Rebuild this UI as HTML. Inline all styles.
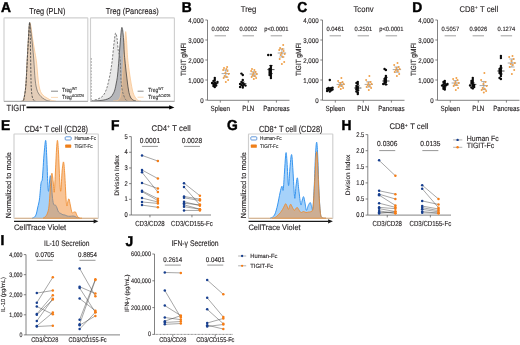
<!DOCTYPE html>
<html><head><meta charset="utf-8"><style>
html,body{margin:0;padding:0;background:#fff;width:520px;height:345px;overflow:hidden}
svg{display:block;font-family:"Liberation Sans", sans-serif;will-change:transform;text-rendering:geometricPrecision}
</style></head><body>
<svg width="520" height="345" viewBox="0 0 520 345">
<text transform="translate(1.0,12.0) scale(1,1.04)" font-size="13.8" text-anchor="start" font-weight="bold" fill="#000" stroke="#000" stroke-width="0.45" stroke-linejoin="miter">A</text>
<rect x="4.0" y="17.9" width="83.8" height="83.5" rx="0.6" fill="#fff" stroke="#cfcfcf" stroke-width="1.15"/>
<rect x="90.5" y="17.9" width="83.9" height="83.5" rx="0.6" fill="#fff" stroke="#cfcfcf" stroke-width="1.15"/>
<text transform="translate(47.3,14.3) scale(1,1.17)" font-size="7.38" text-anchor="middle" font-weight="normal" fill="#231f20" stroke="#231f20" stroke-width="0.12">Treg (PLN)</text>
<text transform="translate(132.3,14.3) scale(1,1.17)" font-size="7.38" text-anchor="middle" font-weight="normal" fill="#231f20" stroke="#231f20" stroke-width="0.12">Treg (Pancreas)</text>
<path d="M21.50,101.20 C21.80,101.10 22.88,101.13 23.30,100.60 C23.72,100.07 23.65,99.77 24.00,98.00 C24.35,96.23 25.03,93.00 25.40,90.00 C25.77,87.00 25.90,85.00 26.20,80.00 C26.50,75.00 26.85,66.67 27.20,60.00 C27.55,53.33 28.00,45.33 28.30,40.00 C28.60,34.67 28.78,30.95 29.00,28.00 C29.22,25.05 29.37,22.63 29.60,22.30 C29.83,21.97 30.12,24.05 30.40,26.00 C30.68,27.95 30.93,30.67 31.30,34.00 C31.67,37.33 32.18,41.67 32.60,46.00 C33.02,50.33 33.37,54.33 33.80,60.00 C34.23,65.67 34.67,75.00 35.20,80.00 C35.73,85.00 36.27,87.50 37.00,90.00 C37.73,92.50 38.67,93.67 39.60,95.00 C40.53,96.33 41.47,97.12 42.60,98.00 C43.73,98.88 45.17,99.77 46.40,100.30 C47.63,100.83 49.40,101.05 50.00,101.20 L50.00,101 L21.50,101 Z" fill="#dcdfe2" stroke="none"/>
<path d="M21.50,101.20 C21.80,101.10 22.88,101.13 23.30,100.60 C23.72,100.07 23.65,99.77 24.00,98.00 C24.35,96.23 25.03,93.00 25.40,90.00 C25.77,87.00 25.90,85.00 26.20,80.00 C26.50,75.00 26.85,66.67 27.20,60.00 C27.55,53.33 27.98,45.33 28.30,40.00 C28.62,34.67 28.83,30.87 29.10,28.00 C29.37,25.13 29.58,22.97 29.90,22.80 C30.22,22.63 30.57,24.47 31.00,27.00 C31.43,29.53 31.92,34.17 32.50,38.00 C33.08,41.83 33.83,46.00 34.50,50.00 C35.17,54.00 35.88,57.00 36.50,62.00 C37.12,67.00 37.62,75.33 38.20,80.00 C38.78,84.67 39.23,87.50 40.00,90.00 C40.77,92.50 41.63,93.67 42.80,95.00 C43.97,96.33 45.55,97.10 47.00,98.00 C48.45,98.90 50.00,99.87 51.50,100.40 C53.00,100.93 55.25,101.07 56.00,101.20 L56.00,101 L21.50,101 Z" fill="#f4a656" fill-opacity="0.30" stroke="none"/>
<path d="M21.50,101.20 C21.80,101.10 22.88,101.13 23.30,100.60 C23.72,100.07 23.65,99.77 24.00,98.00 C24.35,96.23 25.03,93.00 25.40,90.00 C25.77,87.00 25.90,85.00 26.20,80.00 C26.50,75.00 26.85,66.67 27.20,60.00 C27.55,53.33 27.98,45.33 28.30,40.00 C28.62,34.67 28.83,30.87 29.10,28.00 C29.37,25.13 29.58,22.97 29.90,22.80 C30.22,22.63 30.57,24.47 31.00,27.00 C31.43,29.53 31.92,34.17 32.50,38.00 C33.08,41.83 33.83,46.00 34.50,50.00 C35.17,54.00 35.88,57.00 36.50,62.00 C37.12,67.00 37.62,75.33 38.20,80.00 C38.78,84.67 39.23,87.50 40.00,90.00 C40.77,92.50 41.63,93.67 42.80,95.00 C43.97,96.33 45.55,97.10 47.00,98.00 C48.45,98.90 50.00,99.87 51.50,100.40 C53.00,100.93 55.25,101.07 56.00,101.20" fill="none" stroke="#f8c794" stroke-width="0.8"/>
<path d="M21.50,101.20 C21.80,101.10 22.88,101.13 23.30,100.60 C23.72,100.07 23.65,99.77 24.00,98.00 C24.35,96.23 25.03,93.00 25.40,90.00 C25.77,87.00 25.90,85.00 26.20,80.00 C26.50,75.00 26.85,66.67 27.20,60.00 C27.55,53.33 28.00,45.33 28.30,40.00 C28.60,34.67 28.78,30.95 29.00,28.00 C29.22,25.05 29.37,22.63 29.60,22.30 C29.83,21.97 30.12,24.05 30.40,26.00 C30.68,27.95 30.93,30.67 31.30,34.00 C31.67,37.33 32.18,41.67 32.60,46.00 C33.02,50.33 33.37,54.33 33.80,60.00 C34.23,65.67 34.67,75.00 35.20,80.00 C35.73,85.00 36.27,87.50 37.00,90.00 C37.73,92.50 38.67,93.67 39.60,95.00 C40.53,96.33 41.47,97.12 42.60,98.00 C43.73,98.88 45.17,99.77 46.40,100.30 C47.63,100.83 49.40,101.05 50.00,101.20" fill="none" stroke="#505050" stroke-width="0.6"/>
<path d="M23.60,100.40 C23.73,99.83 24.07,99.07 24.40,97.00 C24.73,94.93 25.27,91.17 25.60,88.00 C25.93,84.83 26.12,82.67 26.40,78.00 C26.68,73.33 26.97,66.33 27.30,60.00 C27.63,53.67 28.02,46.23 28.40,40.00 C28.78,33.77 29.30,23.43 29.60,22.60 C29.90,21.77 30.03,29.60 30.20,35.00 C30.37,40.40 30.47,47.50 30.60,55.00 C30.73,62.50 30.87,74.17 31.00,80.00 C31.13,85.83 31.18,87.17 31.40,90.00 C31.62,92.83 31.87,95.23 32.30,97.00 C32.73,98.77 33.38,99.90 34.00,100.60 C34.62,101.30 35.67,101.10 36.00,101.20" fill="none" stroke="#444" stroke-width="0.85" stroke-dasharray="2.2,1.4"/>
<line x1="51" y1="91.2" x2="58" y2="91.2" stroke="#555" stroke-width="0.7" />
<line x1="51" y1="97.4" x2="58" y2="97.4" stroke="#f8c794" stroke-width="0.7" />
<text transform="translate(61.9,92.3) scale(1,1.2)" font-size="4.95" text-anchor="start" font-weight="normal" fill="#333" stroke="#333" stroke-width="0.12">Treg<tspan font-size="3.4" dy="-1.6">WT</tspan></text>
<text transform="translate(61.9,98.5) scale(1,1.2)" font-size="4.95" text-anchor="start" font-weight="normal" fill="#333" stroke="#333" stroke-width="0.12">Treg<tspan font-size="3.4" dy="-1.6">ΔCd226</tspan></text>
<path d="M91.20,101.00 C91.42,100.93 91.62,100.85 92.50,100.60 C93.38,100.35 95.25,99.93 96.50,99.50 C97.75,99.07 98.92,98.62 100.00,98.00 C101.08,97.38 102.08,96.88 103.00,95.80 C103.92,94.72 104.73,93.23 105.50,91.50 C106.27,89.77 106.82,88.38 107.60,85.40 C108.38,82.42 109.43,77.73 110.20,73.60 C110.97,69.47 111.60,65.37 112.20,60.60 C112.80,55.83 113.25,49.55 113.80,45.00 C114.35,40.45 114.97,34.47 115.50,33.30 C116.03,32.13 116.55,35.22 117.00,38.00 C117.45,40.78 117.67,46.33 118.20,50.00 C118.73,53.67 119.73,55.00 120.20,60.00 C120.67,65.00 120.67,75.00 121.00,80.00 C121.33,85.00 121.77,87.50 122.20,90.00 C122.63,92.50 123.05,93.42 123.60,95.00 C124.15,96.58 124.77,98.50 125.50,99.50 C126.23,100.50 127.58,100.75 128.00,101.00 L128.00,101 L91.20,101 Z" fill="#e8e8e8" stroke="none"/>
<path d="M92.50,101.00 C93.25,100.97 95.25,100.93 97.00,100.80 C98.75,100.67 101.25,100.50 103.00,100.20 C104.75,99.90 106.18,99.53 107.50,99.00 C108.82,98.47 109.98,97.83 110.90,97.00 C111.82,96.17 112.35,95.17 113.00,94.00 C113.65,92.83 114.22,92.00 114.80,90.00 C115.38,88.00 116.03,84.50 116.50,82.00 C116.97,79.50 117.20,78.67 117.60,75.00 C118.00,71.33 118.57,64.17 118.90,60.00 C119.23,55.83 119.35,53.33 119.60,50.00 C119.85,46.67 120.13,43.17 120.40,40.00 C120.67,36.83 120.95,33.10 121.20,31.00 C121.45,28.90 121.63,27.40 121.90,27.40 C122.17,27.40 122.52,28.90 122.80,31.00 C123.08,33.10 123.37,36.50 123.60,40.00 C123.83,43.50 123.98,48.67 124.20,52.00 C124.42,55.33 124.52,56.17 124.90,60.00 C125.28,63.83 125.90,70.00 126.50,75.00 C127.10,80.00 127.85,86.33 128.50,90.00 C129.15,93.67 129.65,95.33 130.40,97.00 C131.15,98.67 132.07,99.33 133.00,100.00 C133.93,100.67 135.50,100.83 136.00,101.00 L136.00,101 L92.50,101 Z" fill="#b5b6ba" stroke="none"/>
<path d="M113.00,101.00 C113.83,100.88 116.80,100.97 118.00,100.30 C119.20,99.63 119.65,98.72 120.20,97.00 C120.75,95.28 120.90,93.67 121.30,90.00 C121.70,86.33 122.22,80.00 122.60,75.00 C122.98,70.00 123.32,64.50 123.60,60.00 C123.88,55.50 124.07,51.67 124.30,48.00 C124.53,44.33 124.77,40.73 125.00,38.00 C125.23,35.27 125.47,31.60 125.70,31.60 C125.93,31.60 126.17,34.93 126.40,38.00 C126.63,41.07 126.87,46.33 127.10,50.00 C127.33,53.67 127.35,55.83 127.80,60.00 C128.25,64.17 129.03,70.00 129.80,75.00 C130.57,80.00 131.53,86.33 132.40,90.00 C133.27,93.67 134.03,95.25 135.00,97.00 C135.97,98.75 137.20,99.83 138.20,100.50 C139.20,101.17 140.53,100.92 141.00,101.00 L141.00,101 L113.00,101 Z" fill="#f4a656" fill-opacity="0.38" stroke="none"/>
<path d="M113.00,101.00 C113.83,100.88 116.80,100.97 118.00,100.30 C119.20,99.63 119.65,98.72 120.20,97.00 C120.75,95.28 120.90,93.67 121.30,90.00 C121.70,86.33 122.22,80.00 122.60,75.00 C122.98,70.00 123.32,64.50 123.60,60.00 C123.88,55.50 124.07,51.67 124.30,48.00 C124.53,44.33 124.77,40.73 125.00,38.00 C125.23,35.27 125.47,31.60 125.70,31.60 C125.93,31.60 126.17,34.93 126.40,38.00 C126.63,41.07 126.87,46.33 127.10,50.00 C127.33,53.67 127.35,55.83 127.80,60.00 C128.25,64.17 129.03,70.00 129.80,75.00 C130.57,80.00 131.53,86.33 132.40,90.00 C133.27,93.67 134.03,95.25 135.00,97.00 C135.97,98.75 137.20,99.83 138.20,100.50 C139.20,101.17 140.53,100.92 141.00,101.00" fill="none" stroke="#f8c794" stroke-width="0.8"/>
<path d="M92.50,101.00 C93.25,100.97 95.25,100.93 97.00,100.80 C98.75,100.67 101.25,100.50 103.00,100.20 C104.75,99.90 106.18,99.53 107.50,99.00 C108.82,98.47 109.98,97.83 110.90,97.00 C111.82,96.17 112.35,95.17 113.00,94.00 C113.65,92.83 114.22,92.00 114.80,90.00 C115.38,88.00 116.03,84.50 116.50,82.00 C116.97,79.50 117.20,78.67 117.60,75.00 C118.00,71.33 118.57,64.17 118.90,60.00 C119.23,55.83 119.35,53.33 119.60,50.00 C119.85,46.67 120.13,43.17 120.40,40.00 C120.67,36.83 120.95,33.10 121.20,31.00 C121.45,28.90 121.63,27.40 121.90,27.40 C122.17,27.40 122.52,28.90 122.80,31.00 C123.08,33.10 123.37,36.50 123.60,40.00 C123.83,43.50 123.98,48.67 124.20,52.00 C124.42,55.33 124.52,56.17 124.90,60.00 C125.28,63.83 125.90,70.00 126.50,75.00 C127.10,80.00 127.85,86.33 128.50,90.00 C129.15,93.67 129.65,95.33 130.40,97.00 C131.15,98.67 132.07,99.33 133.00,100.00 C133.93,100.67 135.50,100.83 136.00,101.00" fill="none" stroke="#3a3a3a" stroke-width="0.75"/>
<path d="M91.20,101.00 C91.42,100.93 91.62,100.85 92.50,100.60 C93.38,100.35 95.25,99.93 96.50,99.50 C97.75,99.07 98.92,98.62 100.00,98.00 C101.08,97.38 102.08,96.88 103.00,95.80 C103.92,94.72 104.73,93.23 105.50,91.50 C106.27,89.77 106.82,88.38 107.60,85.40 C108.38,82.42 109.43,77.73 110.20,73.60 C110.97,69.47 111.60,65.37 112.20,60.60 C112.80,55.83 113.25,49.55 113.80,45.00 C114.35,40.45 114.97,34.47 115.50,33.30 C116.03,32.13 116.55,35.22 117.00,38.00 C117.45,40.78 117.67,46.33 118.20,50.00 C118.73,53.67 119.73,55.00 120.20,60.00 C120.67,65.00 120.67,75.00 121.00,80.00 C121.33,85.00 121.77,87.50 122.20,90.00 C122.63,92.50 123.05,93.42 123.60,95.00 C124.15,96.58 124.77,98.50 125.50,99.50 C126.23,100.50 127.58,100.75 128.00,101.00" fill="none" stroke="#6a6a6a" stroke-width="0.85" stroke-dasharray="2.2,1.4"/>
<line x1="91.3" y1="58" x2="91.3" y2="100.5" stroke="#999" stroke-width="0.8" stroke-dasharray="1.8,1.3"/>
<line x1="137.6" y1="91.2" x2="143.6" y2="91.2" stroke="#555" stroke-width="0.7" />
<line x1="137.6" y1="97.2" x2="143.6" y2="97.2" stroke="#f8c794" stroke-width="0.7" />
<text transform="translate(148.2,92.3) scale(1,1.2)" font-size="4.95" text-anchor="start" font-weight="normal" fill="#333" stroke="#333" stroke-width="0.12">Treg<tspan font-size="3.4" dy="-1.6">WT</tspan></text>
<text transform="translate(148.2,98.5) scale(1,1.2)" font-size="4.95" text-anchor="start" font-weight="normal" fill="#333" stroke="#333" stroke-width="0.12">Treg<tspan font-size="3.4" dy="-1.6">ΔCd226</tspan></text>
<line x1="4.0" y1="101.4" x2="87.8" y2="101.4" stroke="#a9a9a9" stroke-width="1.0" />
<line x1="90.5" y1="101.4" x2="174.4" y2="101.4" stroke="#a9a9a9" stroke-width="1.0" />
<text transform="translate(6.5,110.7) scale(1,1.2)" font-size="7.6" text-anchor="start" font-weight="normal" fill="#231f20" stroke="#231f20" stroke-width="0.12">TIGIT</text>
<line x1="26.5" y1="107.4" x2="170" y2="107.4" stroke="#000" stroke-width="1.6" />
<path d="M169.2,105.3 L174.4,107.4 L169.2,109.5 Z" fill="#000"/>
<text transform="translate(181.7,12.3) scale(1,1.04)" font-size="13.8" text-anchor="start" font-weight="bold" fill="#000" stroke="#000" stroke-width="0.45" stroke-linejoin="miter">B</text>
<text transform="translate(248.5,12.1) scale(1,1.1)" font-size="7.65" text-anchor="middle" font-weight="normal" fill="#231f20" stroke="#231f20" stroke-width="0.12">Treg</text>
<line x1="207.5" y1="20" x2="207.5" y2="100.3" stroke="#5a5a5a" stroke-width="0.75" />
<line x1="205.3" y1="20" x2="207.5" y2="20" stroke="#5a5a5a" stroke-width="0.75" />
<text transform="translate(203.6,22.8) scale(1,1.1)" font-size="6.15" text-anchor="end" font-weight="normal" fill="#231f20" stroke="#231f20" stroke-width="0.12">4,000</text>
<line x1="205.3" y1="40" x2="207.5" y2="40" stroke="#5a5a5a" stroke-width="0.75" />
<text transform="translate(203.6,42.8) scale(1,1.1)" font-size="6.15" text-anchor="end" font-weight="normal" fill="#231f20" stroke="#231f20" stroke-width="0.12">3,000</text>
<line x1="205.3" y1="60" x2="207.5" y2="60" stroke="#5a5a5a" stroke-width="0.75" />
<text transform="translate(203.6,62.8) scale(1,1.1)" font-size="6.15" text-anchor="end" font-weight="normal" fill="#231f20" stroke="#231f20" stroke-width="0.12">2,000</text>
<line x1="205.3" y1="80" x2="207.5" y2="80" stroke="#5a5a5a" stroke-width="0.75" />
<text transform="translate(203.6,82.8) scale(1,1.1)" font-size="6.15" text-anchor="end" font-weight="normal" fill="#231f20" stroke="#231f20" stroke-width="0.12">1,000</text>
<line x1="205.3" y1="100" x2="207.5" y2="100" stroke="#5a5a5a" stroke-width="0.75" />
<text transform="translate(203.6,102.8) scale(1,1.1)" font-size="6.15" text-anchor="end" font-weight="normal" fill="#231f20" stroke="#231f20" stroke-width="0.12">0</text>
<line x1="207.5" y1="100.3" x2="289.5" y2="100.3" stroke="#5a5a5a" stroke-width="0.75" />
<line x1="220.3" y1="100.3" x2="220.3" y2="102.6" stroke="#5a5a5a" stroke-width="0.75" />
<text transform="translate(220.3,110.6) scale(1,1.2)" font-size="6.25" text-anchor="middle" font-weight="normal" fill="#231f20" stroke="#231f20" stroke-width="0.12">Spleen</text>
<line x1="248.3" y1="100.3" x2="248.3" y2="102.6" stroke="#5a5a5a" stroke-width="0.75" />
<text transform="translate(248.3,110.6) scale(1,1.2)" font-size="6.25" text-anchor="middle" font-weight="normal" fill="#231f20" stroke="#231f20" stroke-width="0.12">PLN</text>
<line x1="276.4" y1="100.3" x2="276.4" y2="102.6" stroke="#5a5a5a" stroke-width="0.75" />
<text transform="translate(276.4,110.6) scale(1,1.2)" font-size="6.25" text-anchor="middle" font-weight="normal" fill="#231f20" stroke="#231f20" stroke-width="0.12">Pancreas</text>
<text transform="translate(185.7,59.4) rotate(-90) scale(1,1.15)" font-size="6.5" text-anchor="middle" fill="#231f20" stroke="#231f20" stroke-width="0.12">TIGIT gMFI</text>
<text transform="translate(220.3,31.3) scale(1,1.065)" font-size="5.8" text-anchor="middle" font-weight="normal" fill="#231f20" stroke="#231f20" stroke-width="0.12">0.0002</text>
<line x1="214.60000000000002" y1="35.8" x2="226.0" y2="35.8" stroke="#888" stroke-width="0.8" />
<text transform="translate(248.3,31.3) scale(1,1.065)" font-size="5.8" text-anchor="middle" font-weight="normal" fill="#231f20" stroke="#231f20" stroke-width="0.12">0.0002</text>
<line x1="242.60000000000002" y1="35.8" x2="254.0" y2="35.8" stroke="#888" stroke-width="0.8" />
<text transform="translate(276.4,31.3) scale(1,1.065)" font-size="5.8" text-anchor="middle" font-weight="normal" fill="#231f20" stroke="#231f20" stroke-width="0.12">p&lt;0.0001</text>
<line x1="270.7" y1="35.8" x2="282.09999999999997" y2="35.8" stroke="#888" stroke-width="0.8" />
<line x1="211.20000000000002" y1="83.6" x2="218.4" y2="83.6" stroke="#222" stroke-width="0.75" />
<line x1="214.8" y1="82.2" x2="214.8" y2="85.0" stroke="#222" stroke-width="0.7" />
<line x1="212.9" y1="82.2" x2="216.70000000000002" y2="82.2" stroke="#222" stroke-width="0.7" />
<line x1="212.9" y1="85.0" x2="216.70000000000002" y2="85.0" stroke="#222" stroke-width="0.7" />
<circle cx="214.80" cy="87.00" r="1.2" fill="#0a0a0a"/>
<circle cx="213.45" cy="86.00" r="1.2" fill="#0a0a0a"/>
<circle cx="216.15" cy="85.60" r="1.2" fill="#0a0a0a"/>
<circle cx="214.80" cy="84.80" r="1.2" fill="#0a0a0a"/>
<circle cx="213.45" cy="84.00" r="1.2" fill="#0a0a0a"/>
<circle cx="216.15" cy="83.60" r="1.2" fill="#0a0a0a"/>
<circle cx="212.10" cy="83.00" r="1.2" fill="#0a0a0a"/>
<circle cx="214.80" cy="82.40" r="1.2" fill="#0a0a0a"/>
<circle cx="217.50" cy="82.00" r="1.2" fill="#0a0a0a"/>
<circle cx="213.45" cy="81.00" r="1.2" fill="#0a0a0a"/>
<circle cx="214.80" cy="80.00" r="1.2" fill="#0a0a0a"/>
<circle cx="214.80" cy="78.00" r="1.2" fill="#0a0a0a"/>
<line x1="221.60000000000002" y1="73.6" x2="230.0" y2="73.6" stroke="#8a8a8a" stroke-width="0.75" />
<line x1="225.8" y1="70.0" x2="225.8" y2="77.2" stroke="#8a8a8a" stroke-width="0.7" />
<line x1="223.20000000000002" y1="70.0" x2="228.4" y2="70.0" stroke="#8a8a8a" stroke-width="0.7" />
<line x1="223.20000000000002" y1="77.2" x2="228.4" y2="77.2" stroke="#8a8a8a" stroke-width="0.7" />
<circle cx="225.80" cy="82.00" r="1.0" fill="#f0a048"/>
<circle cx="228.10" cy="80.00" r="1.0" fill="#f0a048"/>
<circle cx="223.60" cy="78.00" r="1.0" fill="#f0a048"/>
<circle cx="226.80" cy="77.00" r="1.0" fill="#f0a048"/>
<circle cx="224.60" cy="76.00" r="1.0" fill="#f0a048"/>
<circle cx="228.60" cy="74.00" r="1.0" fill="#f0a048"/>
<circle cx="225.30" cy="73.00" r="1.0" fill="#f0a048"/>
<circle cx="227.50" cy="71.00" r="1.0" fill="#f0a048"/>
<circle cx="223.10" cy="70.00" r="1.0" fill="#f0a048"/>
<circle cx="226.40" cy="69.00" r="1.0" fill="#f0a048"/>
<circle cx="224.00" cy="68.00" r="1.0" fill="#f0a048"/>
<circle cx="227.10" cy="67.00" r="1.0" fill="#f0a048"/>
<line x1="239.20000000000002" y1="83.6" x2="246.4" y2="83.6" stroke="#222" stroke-width="0.75" />
<line x1="242.8" y1="82.0" x2="242.8" y2="85.2" stroke="#222" stroke-width="0.7" />
<line x1="240.9" y1="82.0" x2="244.70000000000002" y2="82.0" stroke="#222" stroke-width="0.7" />
<line x1="240.9" y1="85.2" x2="244.70000000000002" y2="85.2" stroke="#222" stroke-width="0.7" />
<circle cx="242.80" cy="87.60" r="1.2" fill="#0a0a0a"/>
<circle cx="240.10" cy="87.00" r="1.2" fill="#0a0a0a"/>
<circle cx="242.80" cy="86.00" r="1.2" fill="#0a0a0a"/>
<circle cx="245.50" cy="85.60" r="1.2" fill="#0a0a0a"/>
<circle cx="241.45" cy="85.00" r="1.2" fill="#0a0a0a"/>
<circle cx="244.15" cy="84.40" r="1.2" fill="#0a0a0a"/>
<circle cx="240.10" cy="84.00" r="1.2" fill="#0a0a0a"/>
<circle cx="242.80" cy="83.00" r="1.2" fill="#0a0a0a"/>
<circle cx="241.45" cy="82.00" r="1.2" fill="#0a0a0a"/>
<circle cx="242.80" cy="80.00" r="1.2" fill="#0a0a0a"/>
<circle cx="242.80" cy="75.00" r="1.2" fill="#0a0a0a"/>
<circle cx="241.45" cy="73.60" r="1.2" fill="#0a0a0a"/>
<line x1="249.60000000000002" y1="74.0" x2="258.0" y2="74.0" stroke="#8a8a8a" stroke-width="0.75" />
<line x1="253.8" y1="71.8" x2="253.8" y2="76.2" stroke="#8a8a8a" stroke-width="0.7" />
<line x1="251.20000000000002" y1="71.8" x2="256.40000000000003" y2="71.8" stroke="#8a8a8a" stroke-width="0.7" />
<line x1="251.20000000000002" y1="76.2" x2="256.40000000000003" y2="76.2" stroke="#8a8a8a" stroke-width="0.7" />
<circle cx="253.80" cy="79.00" r="1.0" fill="#f0a048"/>
<circle cx="256.10" cy="78.00" r="1.0" fill="#f0a048"/>
<circle cx="251.60" cy="77.00" r="1.0" fill="#f0a048"/>
<circle cx="254.80" cy="76.00" r="1.0" fill="#f0a048"/>
<circle cx="252.60" cy="75.00" r="1.0" fill="#f0a048"/>
<circle cx="256.60" cy="74.00" r="1.0" fill="#f0a048"/>
<circle cx="253.30" cy="73.00" r="1.0" fill="#f0a048"/>
<circle cx="255.50" cy="72.00" r="1.0" fill="#f0a048"/>
<circle cx="251.10" cy="71.00" r="1.0" fill="#f0a048"/>
<circle cx="254.40" cy="70.00" r="1.0" fill="#f0a048"/>
<circle cx="252.00" cy="69.00" r="1.0" fill="#f0a048"/>
<line x1="267.29999999999995" y1="69.6" x2="274.5" y2="69.6" stroke="#222" stroke-width="0.75" />
<line x1="270.9" y1="65.6" x2="270.9" y2="73.6" stroke="#222" stroke-width="0.7" />
<line x1="269.0" y1="65.6" x2="272.79999999999995" y2="65.6" stroke="#222" stroke-width="0.7" />
<line x1="269.0" y1="73.6" x2="272.79999999999995" y2="73.6" stroke="#222" stroke-width="0.7" />
<circle cx="270.90" cy="78.00" r="1.2" fill="#0a0a0a"/>
<circle cx="270.90" cy="76.00" r="1.2" fill="#0a0a0a"/>
<circle cx="269.55" cy="75.00" r="1.2" fill="#0a0a0a"/>
<circle cx="270.90" cy="74.00" r="1.2" fill="#0a0a0a"/>
<circle cx="269.55" cy="73.00" r="1.2" fill="#0a0a0a"/>
<circle cx="270.90" cy="72.00" r="1.2" fill="#0a0a0a"/>
<circle cx="269.55" cy="71.00" r="1.2" fill="#0a0a0a"/>
<circle cx="270.90" cy="70.00" r="1.2" fill="#0a0a0a"/>
<circle cx="269.55" cy="69.00" r="1.2" fill="#0a0a0a"/>
<circle cx="270.90" cy="68.00" r="1.2" fill="#0a0a0a"/>
<circle cx="270.90" cy="66.00" r="1.2" fill="#0a0a0a"/>
<circle cx="270.90" cy="55.00" r="1.2" fill="#0a0a0a"/>
<circle cx="268.20" cy="55.00" r="1.2" fill="#0a0a0a"/>
<line x1="277.7" y1="53.0" x2="286.09999999999997" y2="53.0" stroke="#8a8a8a" stroke-width="0.75" />
<line x1="281.9" y1="49.0" x2="281.9" y2="57.0" stroke="#8a8a8a" stroke-width="0.7" />
<line x1="279.29999999999995" y1="49.0" x2="284.5" y2="49.0" stroke="#8a8a8a" stroke-width="0.7" />
<line x1="279.29999999999995" y1="57.0" x2="284.5" y2="57.0" stroke="#8a8a8a" stroke-width="0.7" />
<circle cx="281.90" cy="64.00" r="1.0" fill="#f0a048"/>
<circle cx="284.20" cy="62.00" r="1.0" fill="#f0a048"/>
<circle cx="279.70" cy="59.00" r="1.0" fill="#f0a048"/>
<circle cx="282.90" cy="57.00" r="1.0" fill="#f0a048"/>
<circle cx="280.70" cy="55.00" r="1.0" fill="#f0a048"/>
<circle cx="284.70" cy="54.00" r="1.0" fill="#f0a048"/>
<circle cx="281.40" cy="53.00" r="1.0" fill="#f0a048"/>
<circle cx="283.60" cy="51.00" r="1.0" fill="#f0a048"/>
<circle cx="279.20" cy="50.00" r="1.0" fill="#f0a048"/>
<circle cx="282.50" cy="49.00" r="1.0" fill="#f0a048"/>
<circle cx="280.10" cy="48.00" r="1.0" fill="#f0a048"/>
<circle cx="283.20" cy="45.00" r="1.0" fill="#f0a048"/>
<text transform="translate(297.2,12.3) scale(1,1.04)" font-size="13.8" text-anchor="start" font-weight="bold" fill="#000" stroke="#000" stroke-width="0.45" stroke-linejoin="miter">C</text>
<text transform="translate(363.5,12.1) scale(1,1.1)" font-size="7.65" text-anchor="middle" font-weight="normal" fill="#231f20" stroke="#231f20" stroke-width="0.12">Tconv</text>
<line x1="322.5" y1="20" x2="322.5" y2="100.3" stroke="#5a5a5a" stroke-width="0.75" />
<line x1="320.3" y1="20" x2="322.5" y2="20" stroke="#5a5a5a" stroke-width="0.75" />
<text transform="translate(318.6,22.8) scale(1,1.1)" font-size="6.15" text-anchor="end" font-weight="normal" fill="#231f20" stroke="#231f20" stroke-width="0.12">4,000</text>
<line x1="320.3" y1="40" x2="322.5" y2="40" stroke="#5a5a5a" stroke-width="0.75" />
<text transform="translate(318.6,42.8) scale(1,1.1)" font-size="6.15" text-anchor="end" font-weight="normal" fill="#231f20" stroke="#231f20" stroke-width="0.12">3,000</text>
<line x1="320.3" y1="60" x2="322.5" y2="60" stroke="#5a5a5a" stroke-width="0.75" />
<text transform="translate(318.6,62.8) scale(1,1.1)" font-size="6.15" text-anchor="end" font-weight="normal" fill="#231f20" stroke="#231f20" stroke-width="0.12">2,000</text>
<line x1="320.3" y1="80" x2="322.5" y2="80" stroke="#5a5a5a" stroke-width="0.75" />
<text transform="translate(318.6,82.8) scale(1,1.1)" font-size="6.15" text-anchor="end" font-weight="normal" fill="#231f20" stroke="#231f20" stroke-width="0.12">1,000</text>
<line x1="320.3" y1="100" x2="322.5" y2="100" stroke="#5a5a5a" stroke-width="0.75" />
<text transform="translate(318.6,102.8) scale(1,1.1)" font-size="6.15" text-anchor="end" font-weight="normal" fill="#231f20" stroke="#231f20" stroke-width="0.12">0</text>
<line x1="322.5" y1="100.3" x2="404.5" y2="100.3" stroke="#5a5a5a" stroke-width="0.75" />
<line x1="335.3" y1="100.3" x2="335.3" y2="102.6" stroke="#5a5a5a" stroke-width="0.75" />
<text transform="translate(335.3,110.6) scale(1,1.2)" font-size="6.25" text-anchor="middle" font-weight="normal" fill="#231f20" stroke="#231f20" stroke-width="0.12">Spleen</text>
<line x1="363.3" y1="100.3" x2="363.3" y2="102.6" stroke="#5a5a5a" stroke-width="0.75" />
<text transform="translate(363.3,110.6) scale(1,1.2)" font-size="6.25" text-anchor="middle" font-weight="normal" fill="#231f20" stroke="#231f20" stroke-width="0.12">PLN</text>
<line x1="391.4" y1="100.3" x2="391.4" y2="102.6" stroke="#5a5a5a" stroke-width="0.75" />
<text transform="translate(391.4,110.6) scale(1,1.2)" font-size="6.25" text-anchor="middle" font-weight="normal" fill="#231f20" stroke="#231f20" stroke-width="0.12">Pancreas</text>
<text transform="translate(300.7,59.4) rotate(-90) scale(1,1.15)" font-size="6.5" text-anchor="middle" fill="#231f20" stroke="#231f20" stroke-width="0.12">TIGIT gMFI</text>
<text transform="translate(335.3,31.3) scale(1,1.065)" font-size="5.8" text-anchor="middle" font-weight="normal" fill="#231f20" stroke="#231f20" stroke-width="0.12">0.0461</text>
<line x1="329.6" y1="35.8" x2="341.0" y2="35.8" stroke="#888" stroke-width="0.8" />
<text transform="translate(363.3,31.3) scale(1,1.065)" font-size="5.8" text-anchor="middle" font-weight="normal" fill="#231f20" stroke="#231f20" stroke-width="0.12">0.2501</text>
<line x1="357.6" y1="35.8" x2="369.0" y2="35.8" stroke="#888" stroke-width="0.8" />
<text transform="translate(391.4,31.3) scale(1,1.065)" font-size="5.8" text-anchor="middle" font-weight="normal" fill="#231f20" stroke="#231f20" stroke-width="0.12">p&lt;0.0001</text>
<line x1="385.7" y1="35.8" x2="397.09999999999997" y2="35.8" stroke="#888" stroke-width="0.8" />
<line x1="326.2" y1="88.8" x2="333.40000000000003" y2="88.8" stroke="#222" stroke-width="0.75" />
<line x1="329.8" y1="87.6" x2="329.8" y2="90.0" stroke="#222" stroke-width="0.7" />
<line x1="327.90000000000003" y1="87.6" x2="331.7" y2="87.6" stroke="#222" stroke-width="0.7" />
<line x1="327.90000000000003" y1="90.0" x2="331.7" y2="90.0" stroke="#222" stroke-width="0.7" />
<circle cx="329.80" cy="91.60" r="1.2" fill="#0a0a0a"/>
<circle cx="327.10" cy="91.00" r="1.2" fill="#0a0a0a"/>
<circle cx="331.15" cy="90.40" r="1.2" fill="#0a0a0a"/>
<circle cx="328.45" cy="90.00" r="1.2" fill="#0a0a0a"/>
<circle cx="332.50" cy="89.60" r="1.2" fill="#0a0a0a"/>
<circle cx="329.80" cy="89.20" r="1.2" fill="#0a0a0a"/>
<circle cx="327.10" cy="88.80" r="1.2" fill="#0a0a0a"/>
<circle cx="331.15" cy="88.40" r="1.2" fill="#0a0a0a"/>
<circle cx="328.45" cy="88.00" r="1.2" fill="#0a0a0a"/>
<circle cx="332.50" cy="87.60" r="1.2" fill="#0a0a0a"/>
<circle cx="329.80" cy="80.00" r="1.2" fill="#0a0a0a"/>
<line x1="336.6" y1="84.4" x2="345.0" y2="84.4" stroke="#8a8a8a" stroke-width="0.75" />
<line x1="340.8" y1="82.6" x2="340.8" y2="86.2" stroke="#8a8a8a" stroke-width="0.7" />
<line x1="338.2" y1="82.6" x2="343.40000000000003" y2="82.6" stroke="#8a8a8a" stroke-width="0.7" />
<line x1="338.2" y1="86.2" x2="343.40000000000003" y2="86.2" stroke="#8a8a8a" stroke-width="0.7" />
<circle cx="340.80" cy="89.00" r="1.0" fill="#f0a048"/>
<circle cx="343.10" cy="88.00" r="1.0" fill="#f0a048"/>
<circle cx="338.60" cy="87.00" r="1.0" fill="#f0a048"/>
<circle cx="341.80" cy="86.00" r="1.0" fill="#f0a048"/>
<circle cx="339.60" cy="85.00" r="1.0" fill="#f0a048"/>
<circle cx="343.60" cy="84.00" r="1.0" fill="#f0a048"/>
<circle cx="340.30" cy="83.00" r="1.0" fill="#f0a048"/>
<circle cx="342.50" cy="82.00" r="1.0" fill="#f0a048"/>
<circle cx="338.10" cy="81.00" r="1.0" fill="#f0a048"/>
<circle cx="341.40" cy="78.00" r="1.0" fill="#f0a048"/>
<line x1="354.2" y1="88.0" x2="361.40000000000003" y2="88.0" stroke="#222" stroke-width="0.75" />
<line x1="357.8" y1="85.8" x2="357.8" y2="90.2" stroke="#222" stroke-width="0.7" />
<line x1="355.90000000000003" y1="85.8" x2="359.7" y2="85.8" stroke="#222" stroke-width="0.7" />
<line x1="355.90000000000003" y1="90.2" x2="359.7" y2="90.2" stroke="#222" stroke-width="0.7" />
<circle cx="357.80" cy="94.00" r="1.2" fill="#0a0a0a"/>
<circle cx="357.80" cy="92.40" r="1.2" fill="#0a0a0a"/>
<circle cx="356.45" cy="91.60" r="1.2" fill="#0a0a0a"/>
<circle cx="357.80" cy="90.40" r="1.2" fill="#0a0a0a"/>
<circle cx="356.45" cy="89.60" r="1.2" fill="#0a0a0a"/>
<circle cx="357.80" cy="88.80" r="1.2" fill="#0a0a0a"/>
<circle cx="356.45" cy="88.00" r="1.2" fill="#0a0a0a"/>
<circle cx="357.80" cy="87.00" r="1.2" fill="#0a0a0a"/>
<circle cx="356.45" cy="86.00" r="1.2" fill="#0a0a0a"/>
<circle cx="357.80" cy="84.00" r="1.2" fill="#0a0a0a"/>
<circle cx="356.45" cy="83.00" r="1.2" fill="#0a0a0a"/>
<circle cx="357.80" cy="82.00" r="1.2" fill="#0a0a0a"/>
<line x1="364.6" y1="84.4" x2="373.0" y2="84.4" stroke="#8a8a8a" stroke-width="0.75" />
<line x1="368.8" y1="81.8" x2="368.8" y2="87.0" stroke="#8a8a8a" stroke-width="0.7" />
<line x1="366.2" y1="81.8" x2="371.40000000000003" y2="81.8" stroke="#8a8a8a" stroke-width="0.7" />
<line x1="366.2" y1="87.0" x2="371.40000000000003" y2="87.0" stroke="#8a8a8a" stroke-width="0.7" />
<circle cx="368.80" cy="90.00" r="1.0" fill="#f0a048"/>
<circle cx="371.10" cy="88.00" r="1.0" fill="#f0a048"/>
<circle cx="366.60" cy="87.00" r="1.0" fill="#f0a048"/>
<circle cx="369.80" cy="86.00" r="1.0" fill="#f0a048"/>
<circle cx="367.60" cy="85.00" r="1.0" fill="#f0a048"/>
<circle cx="371.60" cy="84.00" r="1.0" fill="#f0a048"/>
<circle cx="368.30" cy="83.00" r="1.0" fill="#f0a048"/>
<circle cx="370.50" cy="82.00" r="1.0" fill="#f0a048"/>
<circle cx="366.10" cy="80.00" r="1.0" fill="#f0a048"/>
<circle cx="369.40" cy="76.00" r="1.0" fill="#f0a048"/>
<line x1="382.29999999999995" y1="81.0" x2="389.5" y2="81.0" stroke="#222" stroke-width="0.75" />
<line x1="385.9" y1="77.4" x2="385.9" y2="84.6" stroke="#222" stroke-width="0.7" />
<line x1="384.0" y1="77.4" x2="387.79999999999995" y2="77.4" stroke="#222" stroke-width="0.7" />
<line x1="384.0" y1="84.6" x2="387.79999999999995" y2="84.6" stroke="#222" stroke-width="0.7" />
<circle cx="385.90" cy="84.40" r="1.2" fill="#0a0a0a"/>
<circle cx="383.20" cy="84.00" r="1.2" fill="#0a0a0a"/>
<circle cx="384.55" cy="83.00" r="1.2" fill="#0a0a0a"/>
<circle cx="385.90" cy="82.00" r="1.2" fill="#0a0a0a"/>
<circle cx="384.55" cy="81.00" r="1.2" fill="#0a0a0a"/>
<circle cx="385.90" cy="80.00" r="1.2" fill="#0a0a0a"/>
<circle cx="384.55" cy="79.00" r="1.2" fill="#0a0a0a"/>
<circle cx="385.90" cy="78.00" r="1.2" fill="#0a0a0a"/>
<circle cx="385.90" cy="76.00" r="1.2" fill="#0a0a0a"/>
<circle cx="385.90" cy="70.00" r="1.2" fill="#0a0a0a"/>
<circle cx="384.55" cy="69.00" r="1.2" fill="#0a0a0a"/>
<line x1="392.7" y1="69.6" x2="401.09999999999997" y2="69.6" stroke="#8a8a8a" stroke-width="0.75" />
<line x1="396.9" y1="67.0" x2="396.9" y2="72.2" stroke="#8a8a8a" stroke-width="0.7" />
<line x1="394.29999999999995" y1="67.0" x2="399.5" y2="67.0" stroke="#8a8a8a" stroke-width="0.7" />
<line x1="394.29999999999995" y1="72.2" x2="399.5" y2="72.2" stroke="#8a8a8a" stroke-width="0.7" />
<circle cx="396.90" cy="76.00" r="1.0" fill="#f0a048"/>
<circle cx="399.20" cy="74.00" r="1.0" fill="#f0a048"/>
<circle cx="394.70" cy="72.00" r="1.0" fill="#f0a048"/>
<circle cx="397.90" cy="71.00" r="1.0" fill="#f0a048"/>
<circle cx="395.70" cy="70.00" r="1.0" fill="#f0a048"/>
<circle cx="399.70" cy="69.00" r="1.0" fill="#f0a048"/>
<circle cx="396.40" cy="68.00" r="1.0" fill="#f0a048"/>
<circle cx="398.60" cy="67.00" r="1.0" fill="#f0a048"/>
<circle cx="394.20" cy="65.00" r="1.0" fill="#f0a048"/>
<circle cx="397.50" cy="63.00" r="1.0" fill="#f0a048"/>
<text transform="translate(412.2,12.3) scale(1,1.04)" font-size="13.8" text-anchor="start" font-weight="bold" fill="#000" stroke="#000" stroke-width="0.45" stroke-linejoin="miter">D</text>
<text transform="translate(459.4,12.1) scale(1,1.1)" font-size="7.65" text-anchor="start" font-weight="normal" fill="#231f20" stroke="#231f20" stroke-width="0.12">CD8<tspan font-size="4.4" dy="-2.7" dx="0.2">+</tspan><tspan dy="2.7" dx="0.6"> T cell</tspan></text>
<line x1="437.5" y1="20" x2="437.5" y2="100.3" stroke="#5a5a5a" stroke-width="0.75" />
<line x1="435.3" y1="20" x2="437.5" y2="20" stroke="#5a5a5a" stroke-width="0.75" />
<text transform="translate(433.6,22.8) scale(1,1.1)" font-size="6.15" text-anchor="end" font-weight="normal" fill="#231f20" stroke="#231f20" stroke-width="0.12">4,000</text>
<line x1="435.3" y1="40" x2="437.5" y2="40" stroke="#5a5a5a" stroke-width="0.75" />
<text transform="translate(433.6,42.8) scale(1,1.1)" font-size="6.15" text-anchor="end" font-weight="normal" fill="#231f20" stroke="#231f20" stroke-width="0.12">3,000</text>
<line x1="435.3" y1="60" x2="437.5" y2="60" stroke="#5a5a5a" stroke-width="0.75" />
<text transform="translate(433.6,62.8) scale(1,1.1)" font-size="6.15" text-anchor="end" font-weight="normal" fill="#231f20" stroke="#231f20" stroke-width="0.12">2,000</text>
<line x1="435.3" y1="80" x2="437.5" y2="80" stroke="#5a5a5a" stroke-width="0.75" />
<text transform="translate(433.6,82.8) scale(1,1.1)" font-size="6.15" text-anchor="end" font-weight="normal" fill="#231f20" stroke="#231f20" stroke-width="0.12">1,000</text>
<line x1="435.3" y1="100" x2="437.5" y2="100" stroke="#5a5a5a" stroke-width="0.75" />
<text transform="translate(433.6,102.8) scale(1,1.1)" font-size="6.15" text-anchor="end" font-weight="normal" fill="#231f20" stroke="#231f20" stroke-width="0.12">0</text>
<line x1="437.5" y1="100.3" x2="519.5" y2="100.3" stroke="#5a5a5a" stroke-width="0.75" />
<line x1="450.3" y1="100.3" x2="450.3" y2="102.6" stroke="#5a5a5a" stroke-width="0.75" />
<text transform="translate(450.3,110.6) scale(1,1.2)" font-size="6.25" text-anchor="middle" font-weight="normal" fill="#231f20" stroke="#231f20" stroke-width="0.12">Spleen</text>
<line x1="478.3" y1="100.3" x2="478.3" y2="102.6" stroke="#5a5a5a" stroke-width="0.75" />
<text transform="translate(478.3,110.6) scale(1,1.2)" font-size="6.25" text-anchor="middle" font-weight="normal" fill="#231f20" stroke="#231f20" stroke-width="0.12">PLN</text>
<line x1="506.4" y1="100.3" x2="506.4" y2="102.6" stroke="#5a5a5a" stroke-width="0.75" />
<text transform="translate(506.4,110.6) scale(1,1.2)" font-size="6.25" text-anchor="middle" font-weight="normal" fill="#231f20" stroke="#231f20" stroke-width="0.12">Pancreas</text>
<text transform="translate(415.7,59.4) rotate(-90) scale(1,1.15)" font-size="6.5" text-anchor="middle" fill="#231f20" stroke="#231f20" stroke-width="0.12">TIGIT gMFI</text>
<text transform="translate(450.3,31.3) scale(1,1.065)" font-size="5.8" text-anchor="middle" font-weight="normal" fill="#231f20" stroke="#231f20" stroke-width="0.12">0.5057</text>
<line x1="444.6" y1="35.8" x2="456.0" y2="35.8" stroke="#888" stroke-width="0.8" />
<text transform="translate(478.3,31.3) scale(1,1.065)" font-size="5.8" text-anchor="middle" font-weight="normal" fill="#231f20" stroke="#231f20" stroke-width="0.12">0.9026</text>
<line x1="472.6" y1="35.8" x2="484.0" y2="35.8" stroke="#888" stroke-width="0.8" />
<text transform="translate(506.4,31.3) scale(1,1.065)" font-size="5.8" text-anchor="middle" font-weight="normal" fill="#231f20" stroke="#231f20" stroke-width="0.12">0.1274</text>
<line x1="500.7" y1="35.8" x2="512.1" y2="35.8" stroke="#888" stroke-width="0.8" />
<line x1="441.2" y1="85.2" x2="448.40000000000003" y2="85.2" stroke="#222" stroke-width="0.75" />
<line x1="444.8" y1="83.6" x2="444.8" y2="86.8" stroke="#222" stroke-width="0.7" />
<line x1="442.90000000000003" y1="83.6" x2="446.7" y2="83.6" stroke="#222" stroke-width="0.7" />
<line x1="442.90000000000003" y1="86.8" x2="446.7" y2="86.8" stroke="#222" stroke-width="0.7" />
<circle cx="444.80" cy="89.60" r="1.2" fill="#0a0a0a"/>
<circle cx="443.45" cy="88.80" r="1.2" fill="#0a0a0a"/>
<circle cx="444.80" cy="88.00" r="1.2" fill="#0a0a0a"/>
<circle cx="443.45" cy="87.00" r="1.2" fill="#0a0a0a"/>
<circle cx="444.80" cy="86.00" r="1.2" fill="#0a0a0a"/>
<circle cx="442.10" cy="85.60" r="1.2" fill="#0a0a0a"/>
<circle cx="446.15" cy="85.00" r="1.2" fill="#0a0a0a"/>
<circle cx="443.45" cy="84.40" r="1.2" fill="#0a0a0a"/>
<circle cx="447.50" cy="84.00" r="1.2" fill="#0a0a0a"/>
<circle cx="444.80" cy="83.00" r="1.2" fill="#0a0a0a"/>
<circle cx="443.45" cy="82.00" r="1.2" fill="#0a0a0a"/>
<circle cx="444.80" cy="81.00" r="1.2" fill="#0a0a0a"/>
<line x1="451.6" y1="83.0" x2="460.0" y2="83.0" stroke="#8a8a8a" stroke-width="0.75" />
<line x1="455.8" y1="80.6" x2="455.8" y2="85.4" stroke="#8a8a8a" stroke-width="0.7" />
<line x1="453.2" y1="80.6" x2="458.40000000000003" y2="80.6" stroke="#8a8a8a" stroke-width="0.7" />
<line x1="453.2" y1="85.4" x2="458.40000000000003" y2="85.4" stroke="#8a8a8a" stroke-width="0.7" />
<circle cx="455.80" cy="90.00" r="1.0" fill="#f0a048"/>
<circle cx="458.10" cy="88.00" r="1.0" fill="#f0a048"/>
<circle cx="453.60" cy="86.00" r="1.0" fill="#f0a048"/>
<circle cx="456.80" cy="85.00" r="1.0" fill="#f0a048"/>
<circle cx="454.60" cy="84.00" r="1.0" fill="#f0a048"/>
<circle cx="458.60" cy="83.00" r="1.0" fill="#f0a048"/>
<circle cx="455.30" cy="82.00" r="1.0" fill="#f0a048"/>
<circle cx="457.50" cy="80.00" r="1.0" fill="#f0a048"/>
<circle cx="453.10" cy="79.00" r="1.0" fill="#f0a048"/>
<circle cx="456.40" cy="78.00" r="1.0" fill="#f0a048"/>
<line x1="469.2" y1="84.4" x2="476.40000000000003" y2="84.4" stroke="#222" stroke-width="0.75" />
<line x1="472.8" y1="82.8" x2="472.8" y2="86.0" stroke="#222" stroke-width="0.7" />
<line x1="470.90000000000003" y1="82.8" x2="474.7" y2="82.8" stroke="#222" stroke-width="0.7" />
<line x1="470.90000000000003" y1="86.0" x2="474.7" y2="86.0" stroke="#222" stroke-width="0.7" />
<circle cx="472.80" cy="88.40" r="1.2" fill="#0a0a0a"/>
<circle cx="471.45" cy="87.60" r="1.2" fill="#0a0a0a"/>
<circle cx="474.15" cy="87.00" r="1.2" fill="#0a0a0a"/>
<circle cx="472.80" cy="86.00" r="1.2" fill="#0a0a0a"/>
<circle cx="470.10" cy="85.60" r="1.2" fill="#0a0a0a"/>
<circle cx="474.15" cy="85.00" r="1.2" fill="#0a0a0a"/>
<circle cx="472.80" cy="84.00" r="1.2" fill="#0a0a0a"/>
<circle cx="471.45" cy="83.00" r="1.2" fill="#0a0a0a"/>
<circle cx="472.80" cy="82.00" r="1.2" fill="#0a0a0a"/>
<circle cx="471.45" cy="81.00" r="1.2" fill="#0a0a0a"/>
<circle cx="472.80" cy="80.00" r="1.2" fill="#0a0a0a"/>
<circle cx="472.80" cy="78.00" r="1.2" fill="#0a0a0a"/>
<line x1="479.6" y1="85.6" x2="488.0" y2="85.6" stroke="#8a8a8a" stroke-width="0.75" />
<line x1="483.8" y1="81.6" x2="483.8" y2="89.6" stroke="#8a8a8a" stroke-width="0.7" />
<line x1="481.2" y1="81.6" x2="486.40000000000003" y2="81.6" stroke="#8a8a8a" stroke-width="0.7" />
<line x1="481.2" y1="89.6" x2="486.40000000000003" y2="89.6" stroke="#8a8a8a" stroke-width="0.7" />
<circle cx="483.80" cy="92.40" r="1.0" fill="#f0a048"/>
<circle cx="486.10" cy="91.00" r="1.0" fill="#f0a048"/>
<circle cx="481.60" cy="90.00" r="1.0" fill="#f0a048"/>
<circle cx="484.80" cy="89.00" r="1.0" fill="#f0a048"/>
<circle cx="482.60" cy="88.00" r="1.0" fill="#f0a048"/>
<circle cx="486.60" cy="86.00" r="1.0" fill="#f0a048"/>
<circle cx="483.30" cy="84.00" r="1.0" fill="#f0a048"/>
<circle cx="485.50" cy="82.00" r="1.0" fill="#f0a048"/>
<circle cx="481.10" cy="80.00" r="1.0" fill="#f0a048"/>
<circle cx="484.40" cy="73.00" r="1.0" fill="#f0a048"/>
<line x1="497.29999999999995" y1="71.0" x2="504.5" y2="71.0" stroke="#222" stroke-width="0.75" />
<line x1="500.9" y1="68.0" x2="500.9" y2="74.0" stroke="#222" stroke-width="0.7" />
<line x1="499.0" y1="68.0" x2="502.79999999999995" y2="68.0" stroke="#222" stroke-width="0.7" />
<line x1="499.0" y1="74.0" x2="502.79999999999995" y2="74.0" stroke="#222" stroke-width="0.7" />
<circle cx="500.90" cy="79.00" r="1.2" fill="#0a0a0a"/>
<circle cx="499.55" cy="78.00" r="1.2" fill="#0a0a0a"/>
<circle cx="500.90" cy="76.00" r="1.2" fill="#0a0a0a"/>
<circle cx="500.90" cy="74.00" r="1.2" fill="#0a0a0a"/>
<circle cx="499.55" cy="73.00" r="1.2" fill="#0a0a0a"/>
<circle cx="500.90" cy="72.00" r="1.2" fill="#0a0a0a"/>
<circle cx="499.55" cy="71.00" r="1.2" fill="#0a0a0a"/>
<circle cx="500.90" cy="70.00" r="1.2" fill="#0a0a0a"/>
<circle cx="499.55" cy="69.00" r="1.2" fill="#0a0a0a"/>
<circle cx="500.90" cy="68.00" r="1.2" fill="#0a0a0a"/>
<circle cx="500.90" cy="66.00" r="1.2" fill="#0a0a0a"/>
<circle cx="500.90" cy="58.00" r="1.2" fill="#0a0a0a"/>
<circle cx="500.90" cy="56.00" r="1.2" fill="#0a0a0a"/>
<line x1="507.7" y1="63.0" x2="516.1" y2="63.0" stroke="#8a8a8a" stroke-width="0.75" />
<line x1="511.9" y1="59.0" x2="511.9" y2="67.0" stroke="#8a8a8a" stroke-width="0.7" />
<line x1="509.29999999999995" y1="59.0" x2="514.5" y2="59.0" stroke="#8a8a8a" stroke-width="0.7" />
<line x1="509.29999999999995" y1="67.0" x2="514.5" y2="67.0" stroke="#8a8a8a" stroke-width="0.7" />
<circle cx="511.90" cy="74.00" r="1.0" fill="#f0a048"/>
<circle cx="514.20" cy="70.00" r="1.0" fill="#f0a048"/>
<circle cx="509.70" cy="67.00" r="1.0" fill="#f0a048"/>
<circle cx="512.90" cy="65.00" r="1.0" fill="#f0a048"/>
<circle cx="510.70" cy="64.00" r="1.0" fill="#f0a048"/>
<circle cx="514.70" cy="63.00" r="1.0" fill="#f0a048"/>
<circle cx="511.40" cy="61.00" r="1.0" fill="#f0a048"/>
<circle cx="513.60" cy="59.00" r="1.0" fill="#f0a048"/>
<circle cx="509.20" cy="57.00" r="1.0" fill="#f0a048"/>
<circle cx="512.50" cy="56.00" r="1.0" fill="#f0a048"/>
<text transform="translate(0.9,130.3) scale(1,1.04)" font-size="13.8" text-anchor="start" font-weight="bold" fill="#000" stroke="#000" stroke-width="0.45" stroke-linejoin="miter">E</text>
<rect x="14" y="134" width="84.3" height="84.5" rx="0.4" fill="#fff" stroke="#cfcfcf" stroke-width="1.15"/>
<text transform="translate(56.2,131.8) scale(1,1.2)" font-size="7.4" text-anchor="middle" font-weight="normal" fill="#231f20" stroke="#231f20" stroke-width="0.12">CD4<tspan font-size="4.4" dy="-2.7" dx="0.2">+</tspan><tspan dy="2.7" dx="0.6"> T cell (CD28)</tspan></text>
<path d="M32.00,218.30 C32.42,218.12 33.78,217.92 34.50,217.20 C35.22,216.48 35.78,215.53 36.30,214.00 C36.82,212.47 37.18,209.83 37.60,208.00 C38.02,206.17 38.48,204.50 38.80,203.00 C39.12,201.50 39.27,200.83 39.50,199.00 C39.73,197.17 39.98,194.33 40.20,192.00 C40.42,189.67 40.60,186.75 40.80,185.00 C41.00,183.25 41.17,182.33 41.40,181.50 C41.63,180.67 41.93,181.92 42.20,180.00 C42.47,178.08 42.70,174.17 43.00,170.00 C43.30,165.83 43.55,159.93 44.00,155.00 C44.45,150.07 45.23,139.90 45.70,140.40 C46.17,140.90 46.45,150.73 46.80,158.00 C47.15,165.27 47.50,178.45 47.80,184.00 C48.10,189.55 48.32,191.63 48.60,191.30 C48.88,190.97 49.22,184.60 49.50,182.00 C49.78,179.40 50.00,175.70 50.30,175.70 C50.60,175.70 50.97,178.62 51.30,182.00 C51.63,185.38 51.93,192.33 52.30,196.00 C52.67,199.67 53.08,202.50 53.50,204.00 C53.92,205.50 54.42,204.77 54.80,205.00 C55.18,205.23 55.43,204.90 55.80,205.40 C56.17,205.90 56.55,206.90 57.00,208.00 C57.45,209.10 57.87,211.08 58.50,212.00 C59.13,212.92 60.05,213.03 60.80,213.50 C61.55,213.97 62.30,214.55 63.00,214.80 C63.70,215.05 64.33,214.80 65.00,215.00 C65.67,215.20 66.17,215.78 67.00,216.00 C67.83,216.22 69.00,216.30 70.00,216.30 C71.00,216.30 72.17,215.97 73.00,216.00 C73.83,216.03 74.33,216.23 75.00,216.50 C75.67,216.77 76.17,217.30 77.00,217.60 C77.83,217.90 79.50,218.18 80.00,218.30 L80.00,218.3 L32.00,218.3 Z" fill="#a6d2fa" stroke="none"/>
<path d="M32.00,218.30 C32.42,218.12 33.78,217.92 34.50,217.20 C35.22,216.48 35.78,215.53 36.30,214.00 C36.82,212.47 37.18,209.83 37.60,208.00 C38.02,206.17 38.48,204.50 38.80,203.00 C39.12,201.50 39.27,200.83 39.50,199.00 C39.73,197.17 39.98,194.33 40.20,192.00 C40.42,189.67 40.60,186.75 40.80,185.00 C41.00,183.25 41.17,182.33 41.40,181.50 C41.63,180.67 41.93,181.92 42.20,180.00 C42.47,178.08 42.70,174.17 43.00,170.00 C43.30,165.83 43.55,159.93 44.00,155.00 C44.45,150.07 45.23,139.90 45.70,140.40 C46.17,140.90 46.45,150.73 46.80,158.00 C47.15,165.27 47.50,178.45 47.80,184.00 C48.10,189.55 48.32,191.63 48.60,191.30 C48.88,190.97 49.22,184.60 49.50,182.00 C49.78,179.40 50.00,175.70 50.30,175.70 C50.60,175.70 50.97,178.62 51.30,182.00 C51.63,185.38 51.93,192.33 52.30,196.00 C52.67,199.67 53.08,202.50 53.50,204.00 C53.92,205.50 54.42,204.77 54.80,205.00 C55.18,205.23 55.43,204.90 55.80,205.40 C56.17,205.90 56.55,206.90 57.00,208.00 C57.45,209.10 57.87,211.08 58.50,212.00 C59.13,212.92 60.05,213.03 60.80,213.50 C61.55,213.97 62.30,214.55 63.00,214.80 C63.70,215.05 64.33,214.80 65.00,215.00 C65.67,215.20 66.17,215.78 67.00,216.00 C67.83,216.22 69.00,216.30 70.00,216.30 C71.00,216.30 72.17,215.97 73.00,216.00 C73.83,216.03 74.33,216.23 75.00,216.50 C75.67,216.77 76.17,217.30 77.00,217.60 C77.83,217.90 79.50,218.18 80.00,218.30" fill="none" stroke="#3896f0" stroke-width="1.0"/>
<path d="M43.00,218.30 C43.42,218.00 44.75,217.38 45.50,216.50 C46.25,215.62 46.92,214.75 47.50,213.00 C48.08,211.25 48.55,209.83 49.00,206.00 C49.45,202.17 49.83,194.83 50.20,190.00 C50.57,185.17 50.88,179.75 51.20,177.00 C51.52,174.25 51.77,172.67 52.10,173.50 C52.43,174.33 52.83,178.92 53.20,182.00 C53.57,185.08 53.92,194.00 54.30,192.00 C54.68,190.00 55.12,177.33 55.50,170.00 C55.88,162.67 56.27,152.93 56.60,148.00 C56.93,143.07 57.18,139.73 57.50,140.40 C57.82,141.07 58.13,145.40 58.50,152.00 C58.87,158.60 59.32,173.50 59.70,180.00 C60.08,186.50 60.38,192.67 60.80,191.00 C61.22,189.33 61.73,174.83 62.20,170.00 C62.67,165.17 63.17,161.17 63.60,162.00 C64.03,162.83 64.40,169.00 64.80,175.00 C65.20,181.00 65.65,192.83 66.00,198.00 C66.35,203.17 66.57,205.50 66.90,206.00 C67.23,206.50 67.65,202.17 68.00,201.00 C68.35,199.83 68.62,198.33 69.00,199.00 C69.38,199.67 69.80,202.75 70.30,205.00 C70.80,207.25 71.42,211.30 72.00,212.50 C72.58,213.70 73.22,212.28 73.80,212.20 C74.38,212.12 74.97,211.45 75.50,212.00 C76.03,212.55 76.42,214.50 77.00,215.50 C77.58,216.50 78.17,217.53 79.00,218.00 C79.83,218.47 81.50,218.25 82.00,218.30 L82.00,218.3 L43.00,218.3 Z" fill="#f28a2e" fill-opacity="0.5" stroke="#f08a2a" stroke-width="0.85"/>
<line x1="14.6" y1="218.2" x2="97.8" y2="218.2" stroke="#d9a877" stroke-width="0.9" />
<rect x="65.2" y="136.8" width="6" height="3.2" rx="0.8" fill="#fff" stroke="#3d7fd0" stroke-width="0.8"/>
<rect x="65.2" y="144.6" width="6" height="3.2" rx="0.6" fill="#ef7f1a"/>
<text transform="translate(74.5,140.4) scale(1,1.2)" font-size="4.6" text-anchor="start" font-weight="normal" fill="#333" stroke="#333" stroke-width="0.12">Human-Fc</text>
<text transform="translate(74.5,148.2) scale(1,1.2)" font-size="4.6" text-anchor="start" font-weight="normal" fill="#333" stroke="#333" stroke-width="0.12">TIGIT-Fc</text>
<text transform="translate(11.0,185.1) rotate(-90) scale(1,1.0)" font-size="7.4" text-anchor="middle" fill="#231f20" stroke="#231f20" stroke-width="0.12">Normalized to mode</text>
<line x1="14" y1="221.3" x2="94" y2="221.3" stroke="#1a1a1a" stroke-width="1.15" />
<path d="M93.6,219.2 L98.4,221.3 L93.6,223.4 Z" fill="#1a1a1a"/>
<text transform="translate(14,229.8) scale(1,1.06)" font-size="7.45" text-anchor="start" font-weight="normal" fill="#231f20" stroke="#231f20" stroke-width="0.12">CellTrace Violet</text>
<text transform="translate(226.9,130.3) scale(1,1.04)" font-size="13.8" text-anchor="start" font-weight="bold" fill="#000" stroke="#000" stroke-width="0.45" stroke-linejoin="miter">G</text>
<rect x="248.5" y="134" width="84.3" height="84.5" rx="0.4" fill="#fff" stroke="#cfcfcf" stroke-width="1.15"/>
<text transform="translate(290.7,131.8) scale(1,1.2)" font-size="7.4" text-anchor="middle" font-weight="normal" fill="#231f20" stroke="#231f20" stroke-width="0.12">CD8<tspan font-size="4.4" dy="-2.7" dx="0.2">+</tspan><tspan dy="2.7" dx="0.6"> T cell (CD28)</tspan></text>
<path d="M270.00,218.30 C270.42,218.12 271.67,217.92 272.50,217.20 C273.33,216.48 274.15,216.03 275.00,214.00 C275.85,211.97 276.77,208.50 277.60,205.00 C278.43,201.50 279.28,196.12 280.00,193.00 C280.72,189.88 281.37,186.80 281.90,186.30 C282.43,185.80 282.77,192.38 283.20,190.00 C283.63,187.62 284.12,177.50 284.50,172.00 C284.88,166.50 285.22,160.20 285.50,157.00 C285.78,153.80 285.95,151.97 286.20,152.80 C286.45,153.63 286.62,156.55 287.00,162.00 C287.38,167.45 288.03,184.17 288.50,185.50 C288.97,186.83 289.38,174.75 289.80,170.00 C290.22,165.25 290.65,159.38 291.00,157.00 C291.35,154.62 291.58,153.53 291.90,155.70 C292.22,157.87 292.43,162.95 292.90,170.00 C293.37,177.05 294.18,195.33 294.70,198.00 C295.22,200.67 295.55,189.35 296.00,186.00 C296.45,182.65 296.93,177.23 297.40,177.90 C297.87,178.57 298.23,185.53 298.80,190.00 C299.37,194.47 300.22,203.03 300.80,204.70 C301.38,206.37 301.83,201.33 302.30,200.00 C302.77,198.67 303.15,196.20 303.60,196.70 C304.05,197.20 304.53,200.73 305.00,203.00 C305.47,205.27 305.85,209.88 306.40,210.30 C306.95,210.72 307.65,206.78 308.30,205.50 C308.95,204.22 309.75,202.43 310.30,202.60 C310.85,202.77 311.17,205.52 311.60,206.50 C312.03,207.48 312.45,212.08 312.90,208.50 C313.35,204.92 313.87,193.92 314.30,185.00 C314.73,176.08 315.10,162.13 315.50,155.00 C315.90,147.87 316.32,141.70 316.70,142.20 C317.08,142.70 317.42,149.70 317.80,158.00 C318.18,166.30 318.58,183.00 319.00,192.00 C319.42,201.00 319.83,207.73 320.30,212.00 C320.77,216.27 320.85,216.55 321.80,217.60 C322.75,218.65 325.30,218.18 326.00,218.30 L326.00,218.3 L270.00,218.3 Z" fill="#a6d2fa" stroke="none"/>
<path d="M270.00,218.30 C270.42,218.12 271.67,217.92 272.50,217.20 C273.33,216.48 274.15,216.03 275.00,214.00 C275.85,211.97 276.77,208.50 277.60,205.00 C278.43,201.50 279.28,196.12 280.00,193.00 C280.72,189.88 281.37,186.80 281.90,186.30 C282.43,185.80 282.77,192.38 283.20,190.00 C283.63,187.62 284.12,177.50 284.50,172.00 C284.88,166.50 285.22,160.20 285.50,157.00 C285.78,153.80 285.95,151.97 286.20,152.80 C286.45,153.63 286.62,156.55 287.00,162.00 C287.38,167.45 288.03,184.17 288.50,185.50 C288.97,186.83 289.38,174.75 289.80,170.00 C290.22,165.25 290.65,159.38 291.00,157.00 C291.35,154.62 291.58,153.53 291.90,155.70 C292.22,157.87 292.43,162.95 292.90,170.00 C293.37,177.05 294.18,195.33 294.70,198.00 C295.22,200.67 295.55,189.35 296.00,186.00 C296.45,182.65 296.93,177.23 297.40,177.90 C297.87,178.57 298.23,185.53 298.80,190.00 C299.37,194.47 300.22,203.03 300.80,204.70 C301.38,206.37 301.83,201.33 302.30,200.00 C302.77,198.67 303.15,196.20 303.60,196.70 C304.05,197.20 304.53,200.73 305.00,203.00 C305.47,205.27 305.85,209.88 306.40,210.30 C306.95,210.72 307.65,206.78 308.30,205.50 C308.95,204.22 309.75,202.43 310.30,202.60 C310.85,202.77 311.17,205.52 311.60,206.50 C312.03,207.48 312.45,212.08 312.90,208.50 C313.35,204.92 313.87,193.92 314.30,185.00 C314.73,176.08 315.10,162.13 315.50,155.00 C315.90,147.87 316.32,141.70 316.70,142.20 C317.08,142.70 317.42,149.70 317.80,158.00 C318.18,166.30 318.58,183.00 319.00,192.00 C319.42,201.00 319.83,207.73 320.30,212.00 C320.77,216.27 320.85,216.55 321.80,217.60 C322.75,218.65 325.30,218.18 326.00,218.30" fill="none" stroke="#3896f0" stroke-width="1.0"/>
<path d="M272.00,218.30 C272.50,218.18 274.00,218.12 275.00,217.60 C276.00,217.08 277.08,216.05 278.00,215.20 C278.92,214.35 279.75,213.45 280.50,212.50 C281.25,211.55 281.87,210.58 282.50,209.50 C283.13,208.42 283.77,206.97 284.30,206.00 C284.83,205.03 285.25,203.70 285.70,203.70 C286.15,203.70 286.53,205.05 287.00,206.00 C287.47,206.95 288.03,209.48 288.50,209.40 C288.97,209.32 289.42,206.35 289.80,205.50 C290.18,204.65 290.43,204.13 290.80,204.30 C291.17,204.47 291.43,205.50 292.00,206.50 C292.57,207.50 293.57,209.97 294.20,210.30 C294.83,210.63 295.27,208.97 295.80,208.50 C296.33,208.03 296.87,207.25 297.40,207.50 C297.93,207.75 298.40,209.17 299.00,210.00 C299.60,210.83 300.25,212.25 301.00,212.50 C301.75,212.75 302.67,211.50 303.50,211.50 C304.33,211.50 305.17,212.42 306.00,212.50 C306.83,212.58 307.67,212.17 308.50,212.00 C309.33,211.83 310.25,212.17 311.00,211.50 C311.75,210.83 312.42,212.42 313.00,208.00 C313.58,203.58 314.03,193.00 314.50,185.00 C314.97,177.00 315.43,165.53 315.80,160.00 C316.17,154.47 316.40,151.47 316.70,151.80 C317.00,152.13 317.25,155.63 317.60,162.00 C317.95,168.37 318.37,181.83 318.80,190.00 C319.23,198.17 319.70,206.42 320.20,211.00 C320.70,215.58 320.83,216.28 321.80,217.50 C322.77,218.72 325.30,218.17 326.00,218.30 L326.00,218.3 L272.00,218.3 Z" fill="#f28a2e" fill-opacity="0.5" stroke="#f08a2a" stroke-width="0.85"/>
<line x1="249.1" y1="218.2" x2="332.3" y2="218.2" stroke="#d9a877" stroke-width="0.9" />
<rect x="250.8" y="136.8" width="6" height="3.2" rx="0.8" fill="#fff" stroke="#3d7fd0" stroke-width="0.8"/>
<rect x="250.8" y="144.6" width="6" height="3.2" rx="0.6" fill="#ef7f1a"/>
<text transform="translate(260.1,140.4) scale(1,1.2)" font-size="4.6" text-anchor="start" font-weight="normal" fill="#333" stroke="#333" stroke-width="0.12">Human-Fc</text>
<text transform="translate(260.1,148.2) scale(1,1.2)" font-size="4.6" text-anchor="start" font-weight="normal" fill="#333" stroke="#333" stroke-width="0.12">TIGIT-Fc</text>
<text transform="translate(245.5,185.1) rotate(-90) scale(1,1.0)" font-size="7.4" text-anchor="middle" fill="#231f20" stroke="#231f20" stroke-width="0.12">Normalized to mode</text>
<line x1="248.5" y1="221.3" x2="328.5" y2="221.3" stroke="#1a1a1a" stroke-width="1.15" />
<path d="M328.1,219.2 L332.9,221.3 L328.1,223.4 Z" fill="#1a1a1a"/>
<text transform="translate(248.5,229.8) scale(1,1.06)" font-size="7.45" text-anchor="start" font-weight="normal" fill="#231f20" stroke="#231f20" stroke-width="0.12">CellTrace Violet</text>
<text transform="translate(111,130.1) scale(1,1.04)" font-size="13.8" text-anchor="start" font-weight="bold" fill="#000" stroke="#000" stroke-width="0.45" stroke-linejoin="miter">F</text>
<text transform="translate(151.6,131.2) scale(1,1.07)" font-size="7.7" text-anchor="start" font-weight="normal" fill="#231f20" stroke="#231f20" stroke-width="0.12">CD4<tspan font-size="4.4" dy="-2.7" dx="0.2">+</tspan><tspan dy="2.7" dx="0.6"> T cell</tspan></text>
<line x1="131.3" y1="136.6" x2="131.3" y2="215.0" stroke="#5a5a5a" stroke-width="0.75" />
<line x1="129.10000000000002" y1="136.6" x2="131.3" y2="136.6" stroke="#5a5a5a" stroke-width="0.75" />
<text transform="translate(127.80000000000001,138.6) scale(1,1.2)" font-size="5.8" text-anchor="end" font-weight="normal" fill="#231f20" stroke="#231f20" stroke-width="0.12">5</text>
<line x1="129.10000000000002" y1="152.28" x2="131.3" y2="152.28" stroke="#5a5a5a" stroke-width="0.75" />
<text transform="translate(127.80000000000001,154.28) scale(1,1.2)" font-size="5.8" text-anchor="end" font-weight="normal" fill="#231f20" stroke="#231f20" stroke-width="0.12">4</text>
<line x1="129.10000000000002" y1="167.96" x2="131.3" y2="167.96" stroke="#5a5a5a" stroke-width="0.75" />
<text transform="translate(127.80000000000001,169.96) scale(1,1.2)" font-size="5.8" text-anchor="end" font-weight="normal" fill="#231f20" stroke="#231f20" stroke-width="0.12">3</text>
<line x1="129.10000000000002" y1="183.64" x2="131.3" y2="183.64" stroke="#5a5a5a" stroke-width="0.75" />
<text transform="translate(127.80000000000001,185.64) scale(1,1.2)" font-size="5.8" text-anchor="end" font-weight="normal" fill="#231f20" stroke="#231f20" stroke-width="0.12">2</text>
<line x1="129.10000000000002" y1="199.32" x2="131.3" y2="199.32" stroke="#5a5a5a" stroke-width="0.75" />
<text transform="translate(127.80000000000001,201.32) scale(1,1.2)" font-size="5.8" text-anchor="end" font-weight="normal" fill="#231f20" stroke="#231f20" stroke-width="0.12">1</text>
<line x1="129.10000000000002" y1="215.0" x2="131.3" y2="215.0" stroke="#5a5a5a" stroke-width="0.75" />
<text transform="translate(127.80000000000001,217.0) scale(1,1.2)" font-size="5.8" text-anchor="end" font-weight="normal" fill="#231f20" stroke="#231f20" stroke-width="0.12">0</text>
<line x1="131.3" y1="215.0" x2="211" y2="215.0" stroke="#5a5a5a" stroke-width="0.75" />
<line x1="149.95" y1="215.0" x2="149.95" y2="217.3" stroke="#5a5a5a" stroke-width="0.75" />
<text transform="translate(149.95,225.5) scale(1,1.2)" font-size="6.1" text-anchor="middle" font-weight="normal" fill="#231f20" stroke="#231f20" stroke-width="0.12">CD3/CD28</text>
<line x1="191.95" y1="215.0" x2="191.95" y2="217.3" stroke="#5a5a5a" stroke-width="0.75" />
<text transform="translate(191.95,225.5) scale(1,1.2)" font-size="6.1" text-anchor="middle" font-weight="normal" fill="#231f20" stroke="#231f20" stroke-width="0.12">CD3/CD155-Fc</text>
<text transform="translate(149.95,142.5) scale(1,1.1)" font-size="6.65" text-anchor="middle" font-weight="normal" fill="#231f20" stroke="#231f20" stroke-width="0.12">0.0001</text>
<line x1="141.95" y1="146.4" x2="157.95" y2="146.4" stroke="#8a8a8a" stroke-width="0.9" />
<text transform="translate(191.95,142.5) scale(1,1.1)" font-size="6.65" text-anchor="middle" font-weight="normal" fill="#231f20" stroke="#231f20" stroke-width="0.12">0.0028</text>
<line x1="183.95" y1="146.4" x2="199.95" y2="146.4" stroke="#8a8a8a" stroke-width="0.9" />
<text transform="translate(119.3,175.4) rotate(-90) scale(1,1.0)" font-size="6.5" text-anchor="middle" fill="#231f20" stroke="#231f20" stroke-width="0.12">Division Index</text>
<line x1="142.0" y1="155.416" x2="157.9" y2="161.0608" stroke="#3a3a3a" stroke-width="0.45" />
<line x1="142.0" y1="169.9984" x2="157.9" y2="178.6224" stroke="#3a3a3a" stroke-width="0.45" />
<line x1="142.0" y1="172.35039999999998" x2="157.9" y2="192.1072" stroke="#3a3a3a" stroke-width="0.45" />
<line x1="142.0" y1="183.0128" x2="157.9" y2="188.5008" stroke="#3a3a3a" stroke-width="0.45" />
<line x1="142.0" y1="190.8528" x2="157.9" y2="198.6928" stroke="#3a3a3a" stroke-width="0.45" />
<line x1="142.0" y1="191.6368" x2="157.9" y2="200.5744" stroke="#3a3a3a" stroke-width="0.45" />
<line x1="142.0" y1="198.0656" x2="157.9" y2="201.9856" stroke="#3a3a3a" stroke-width="0.45" />
<line x1="142.0" y1="201.9856" x2="157.9" y2="203.39679999999998" stroke="#3a3a3a" stroke-width="0.45" />
<line x1="142.0" y1="205.1216" x2="157.9" y2="207.3168" stroke="#3a3a3a" stroke-width="0.45" />
<circle cx="142.00" cy="155.42" r="1.25" fill="#173f8f"/>
<circle cx="157.90" cy="161.06" r="1.25" fill="#f67d16"/>
<circle cx="142.00" cy="170.00" r="1.25" fill="#173f8f"/>
<circle cx="157.90" cy="178.62" r="1.25" fill="#f67d16"/>
<circle cx="142.00" cy="172.35" r="1.25" fill="#173f8f"/>
<circle cx="157.90" cy="192.11" r="1.25" fill="#f67d16"/>
<circle cx="142.00" cy="183.01" r="1.25" fill="#173f8f"/>
<circle cx="157.90" cy="188.50" r="1.25" fill="#f67d16"/>
<circle cx="142.00" cy="190.85" r="1.25" fill="#173f8f"/>
<circle cx="157.90" cy="198.69" r="1.25" fill="#f67d16"/>
<circle cx="142.00" cy="191.64" r="1.25" fill="#173f8f"/>
<circle cx="157.90" cy="200.57" r="1.25" fill="#f67d16"/>
<circle cx="142.00" cy="198.07" r="1.25" fill="#173f8f"/>
<circle cx="157.90" cy="201.99" r="1.25" fill="#f67d16"/>
<circle cx="142.00" cy="201.99" r="1.25" fill="#173f8f"/>
<circle cx="157.90" cy="203.40" r="1.25" fill="#f67d16"/>
<circle cx="142.00" cy="205.12" r="1.25" fill="#173f8f"/>
<circle cx="157.90" cy="207.32" r="1.25" fill="#f67d16"/>
<line x1="184" y1="183.1696" x2="199.9" y2="195.71359999999999" stroke="#3a3a3a" stroke-width="0.45" />
<line x1="184" y1="186.9328" x2="199.9" y2="204.808" stroke="#3a3a3a" stroke-width="0.45" />
<line x1="184" y1="196.4976" x2="199.9" y2="199.1632" stroke="#3a3a3a" stroke-width="0.45" />
<line x1="184" y1="197.752" x2="199.9" y2="200.5744" stroke="#3a3a3a" stroke-width="0.45" />
<line x1="184" y1="201.672" x2="199.9" y2="205.7488" stroke="#3a3a3a" stroke-width="0.45" />
<line x1="184" y1="203.24" x2="199.9" y2="204.808" stroke="#3a3a3a" stroke-width="0.45" />
<line x1="184" y1="204.808" x2="199.9" y2="209.1984" stroke="#3a3a3a" stroke-width="0.45" />
<line x1="184" y1="206.68959999999998" x2="199.9" y2="209.1984" stroke="#3a3a3a" stroke-width="0.45" />
<line x1="184" y1="210.4528" x2="199.9" y2="210.4528" stroke="#3a3a3a" stroke-width="0.45" />
<circle cx="184.00" cy="183.17" r="1.25" fill="#173f8f"/>
<circle cx="199.90" cy="195.71" r="1.25" fill="#f67d16"/>
<circle cx="184.00" cy="186.93" r="1.25" fill="#173f8f"/>
<circle cx="199.90" cy="204.81" r="1.25" fill="#f67d16"/>
<circle cx="184.00" cy="196.50" r="1.25" fill="#173f8f"/>
<circle cx="199.90" cy="199.16" r="1.25" fill="#f67d16"/>
<circle cx="184.00" cy="197.75" r="1.25" fill="#173f8f"/>
<circle cx="199.90" cy="200.57" r="1.25" fill="#f67d16"/>
<circle cx="184.00" cy="201.67" r="1.25" fill="#173f8f"/>
<circle cx="199.90" cy="205.75" r="1.25" fill="#f67d16"/>
<circle cx="184.00" cy="203.24" r="1.25" fill="#173f8f"/>
<circle cx="199.90" cy="204.81" r="1.25" fill="#f67d16"/>
<circle cx="184.00" cy="204.81" r="1.25" fill="#173f8f"/>
<circle cx="199.90" cy="209.20" r="1.25" fill="#f67d16"/>
<circle cx="184.00" cy="206.69" r="1.25" fill="#173f8f"/>
<circle cx="199.90" cy="209.20" r="1.25" fill="#f67d16"/>
<circle cx="184.00" cy="210.45" r="1.25" fill="#173f8f"/>
<circle cx="199.90" cy="210.45" r="1.25" fill="#f67d16"/>
<text transform="translate(341.5,130.1) scale(1,1.04)" font-size="13.8" text-anchor="start" font-weight="bold" fill="#000" stroke="#000" stroke-width="0.45" stroke-linejoin="miter">H</text>
<text transform="translate(389.4,129.4) scale(1,1.05)" font-size="7.7" text-anchor="start" font-weight="normal" fill="#231f20" stroke="#231f20" stroke-width="0.12">CD8<tspan font-size="4.4" dy="-2.7" dx="0.2">+</tspan><tspan dy="2.7" dx="0.6"> T cell</tspan></text>
<line x1="367.8" y1="134.6" x2="367.8" y2="215.1" stroke="#5a5a5a" stroke-width="0.75" />
<line x1="365.6" y1="134.6" x2="367.8" y2="134.6" stroke="#5a5a5a" stroke-width="0.75" />
<text transform="translate(364.3,136.6) scale(1,1.2)" font-size="5.8" text-anchor="end" font-weight="normal" fill="#231f20" stroke="#231f20" stroke-width="0.12">2.5</text>
<line x1="365.6" y1="150.7" x2="367.8" y2="150.7" stroke="#5a5a5a" stroke-width="0.75" />
<text transform="translate(364.3,152.7) scale(1,1.2)" font-size="5.8" text-anchor="end" font-weight="normal" fill="#231f20" stroke="#231f20" stroke-width="0.12">2.0</text>
<line x1="365.6" y1="166.8" x2="367.8" y2="166.8" stroke="#5a5a5a" stroke-width="0.75" />
<text transform="translate(364.3,168.8) scale(1,1.2)" font-size="5.8" text-anchor="end" font-weight="normal" fill="#231f20" stroke="#231f20" stroke-width="0.12">1.5</text>
<line x1="365.6" y1="182.89999999999998" x2="367.8" y2="182.89999999999998" stroke="#5a5a5a" stroke-width="0.75" />
<text transform="translate(364.3,184.89999999999998) scale(1,1.2)" font-size="5.8" text-anchor="end" font-weight="normal" fill="#231f20" stroke="#231f20" stroke-width="0.12">1.0</text>
<line x1="365.6" y1="199.0" x2="367.8" y2="199.0" stroke="#5a5a5a" stroke-width="0.75" />
<text transform="translate(364.3,201.0) scale(1,1.2)" font-size="5.8" text-anchor="end" font-weight="normal" fill="#231f20" stroke="#231f20" stroke-width="0.12">0.5</text>
<line x1="365.6" y1="215.1" x2="367.8" y2="215.1" stroke="#5a5a5a" stroke-width="0.75" />
<text transform="translate(364.3,217.1) scale(1,1.2)" font-size="5.8" text-anchor="end" font-weight="normal" fill="#231f20" stroke="#231f20" stroke-width="0.12">0.0</text>
<line x1="367.8" y1="215.1" x2="451" y2="215.1" stroke="#5a5a5a" stroke-width="0.75" />
<line x1="387.25" y1="215.1" x2="387.25" y2="217.4" stroke="#5a5a5a" stroke-width="0.75" />
<text transform="translate(387.25,225.5) scale(1,1.2)" font-size="6.1" text-anchor="middle" font-weight="normal" fill="#231f20" stroke="#231f20" stroke-width="0.12">CD3/CD28</text>
<line x1="430.35" y1="215.1" x2="430.35" y2="217.4" stroke="#5a5a5a" stroke-width="0.75" />
<text transform="translate(430.35,225.5) scale(1,1.2)" font-size="6.1" text-anchor="middle" font-weight="normal" fill="#231f20" stroke="#231f20" stroke-width="0.12">CD3/CD155-Fc</text>
<text transform="translate(387.25,146.2) scale(1,1.1)" font-size="6.65" text-anchor="middle" font-weight="normal" fill="#231f20" stroke="#231f20" stroke-width="0.12">0.0306</text>
<line x1="379.25" y1="150.6" x2="395.25" y2="150.6" stroke="#8a8a8a" stroke-width="0.9" />
<text transform="translate(430.35,146.2) scale(1,1.1)" font-size="6.65" text-anchor="middle" font-weight="normal" fill="#231f20" stroke="#231f20" stroke-width="0.12">0.0135</text>
<line x1="422.35" y1="150.6" x2="438.35" y2="150.6" stroke="#8a8a8a" stroke-width="0.9" />
<text transform="translate(350.3,174.9) rotate(-90) scale(1,1.0)" font-size="6.5" text-anchor="middle" fill="#231f20" stroke="#231f20" stroke-width="0.12">Division Index</text>
<line x1="379.1" y1="160.35999999999999" x2="395.4" y2="175.81599999999997" stroke="#3a3a3a" stroke-width="0.45" />
<line x1="379.1" y1="190.789" x2="395.4" y2="194.17" stroke="#3a3a3a" stroke-width="0.45" />
<line x1="379.1" y1="194.17" x2="395.4" y2="199.0" stroke="#3a3a3a" stroke-width="0.45" />
<line x1="379.1" y1="195.136" x2="395.4" y2="205.44" stroke="#3a3a3a" stroke-width="0.45" />
<line x1="379.1" y1="203.18599999999998" x2="395.4" y2="207.37199999999999" stroke="#3a3a3a" stroke-width="0.45" />
<line x1="379.1" y1="207.37199999999999" x2="395.4" y2="208.66" stroke="#3a3a3a" stroke-width="0.45" />
<line x1="379.1" y1="208.66" x2="395.4" y2="211.558" stroke="#3a3a3a" stroke-width="0.45" />
<line x1="379.1" y1="210.914" x2="395.4" y2="213.168" stroke="#3a3a3a" stroke-width="0.45" />
<line x1="379.1" y1="212.202" x2="395.4" y2="213.168" stroke="#3a3a3a" stroke-width="0.45" />
<line x1="379.1" y1="213.48999999999998" x2="395.4" y2="211.558" stroke="#3a3a3a" stroke-width="0.45" />
<circle cx="379.10" cy="160.36" r="1.25" fill="#173f8f"/>
<circle cx="395.40" cy="175.82" r="1.25" fill="#f67d16"/>
<circle cx="379.10" cy="190.79" r="1.25" fill="#173f8f"/>
<circle cx="395.40" cy="194.17" r="1.25" fill="#f67d16"/>
<circle cx="379.10" cy="194.17" r="1.25" fill="#173f8f"/>
<circle cx="395.40" cy="199.00" r="1.25" fill="#f67d16"/>
<circle cx="379.10" cy="195.14" r="1.25" fill="#173f8f"/>
<circle cx="395.40" cy="205.44" r="1.25" fill="#f67d16"/>
<circle cx="379.10" cy="203.19" r="1.25" fill="#173f8f"/>
<circle cx="395.40" cy="207.37" r="1.25" fill="#f67d16"/>
<circle cx="379.10" cy="207.37" r="1.25" fill="#173f8f"/>
<circle cx="395.40" cy="208.66" r="1.25" fill="#f67d16"/>
<circle cx="379.10" cy="208.66" r="1.25" fill="#173f8f"/>
<circle cx="395.40" cy="211.56" r="1.25" fill="#f67d16"/>
<circle cx="379.10" cy="210.91" r="1.25" fill="#173f8f"/>
<circle cx="395.40" cy="213.17" r="1.25" fill="#f67d16"/>
<circle cx="379.10" cy="212.20" r="1.25" fill="#173f8f"/>
<circle cx="395.40" cy="213.17" r="1.25" fill="#f67d16"/>
<circle cx="379.10" cy="213.49" r="1.25" fill="#173f8f"/>
<circle cx="395.40" cy="211.56" r="1.25" fill="#f67d16"/>
<line x1="422.2" y1="185.154" x2="438.5" y2="199.0" stroke="#3a3a3a" stroke-width="0.45" />
<line x1="422.2" y1="188.696" x2="438.5" y2="207.694" stroke="#3a3a3a" stroke-width="0.45" />
<line x1="422.2" y1="200.932" x2="438.5" y2="204.474" stroke="#3a3a3a" stroke-width="0.45" />
<line x1="422.2" y1="206.084" x2="438.5" y2="208.982" stroke="#3a3a3a" stroke-width="0.45" />
<line x1="422.2" y1="207.694" x2="438.5" y2="210.59199999999998" stroke="#3a3a3a" stroke-width="0.45" />
<line x1="422.2" y1="209.304" x2="438.5" y2="211.88" stroke="#3a3a3a" stroke-width="0.45" />
<line x1="422.2" y1="211.558" x2="438.5" y2="213.168" stroke="#3a3a3a" stroke-width="0.45" />
<line x1="422.2" y1="212.846" x2="438.5" y2="213.168" stroke="#3a3a3a" stroke-width="0.45" />
<circle cx="422.20" cy="185.15" r="1.25" fill="#173f8f"/>
<circle cx="438.50" cy="199.00" r="1.25" fill="#f67d16"/>
<circle cx="422.20" cy="188.70" r="1.25" fill="#173f8f"/>
<circle cx="438.50" cy="207.69" r="1.25" fill="#f67d16"/>
<circle cx="422.20" cy="200.93" r="1.25" fill="#173f8f"/>
<circle cx="438.50" cy="204.47" r="1.25" fill="#f67d16"/>
<circle cx="422.20" cy="206.08" r="1.25" fill="#173f8f"/>
<circle cx="438.50" cy="208.98" r="1.25" fill="#f67d16"/>
<circle cx="422.20" cy="207.69" r="1.25" fill="#173f8f"/>
<circle cx="438.50" cy="210.59" r="1.25" fill="#f67d16"/>
<circle cx="422.20" cy="209.30" r="1.25" fill="#173f8f"/>
<circle cx="438.50" cy="211.88" r="1.25" fill="#f67d16"/>
<circle cx="422.20" cy="211.56" r="1.25" fill="#173f8f"/>
<circle cx="438.50" cy="213.17" r="1.25" fill="#f67d16"/>
<circle cx="422.20" cy="212.85" r="1.25" fill="#173f8f"/>
<circle cx="438.50" cy="213.17" r="1.25" fill="#f67d16"/>
<line x1="453.1" y1="139.9" x2="462.3" y2="139.9" stroke="#666" stroke-width="0.5" />
<circle cx="457.60" cy="139.90" r="1.2" fill="#173f8f"/>
<line x1="453.1" y1="147.3" x2="462.3" y2="147.3" stroke="#666" stroke-width="0.5" />
<circle cx="457.60" cy="147.30" r="1.2" fill="#f67d16"/>
<text transform="translate(466.8,140.9) scale(1,1.1)" font-size="6.95" text-anchor="start" font-weight="normal" fill="#231f20" stroke="#231f20" stroke-width="0.12">Human Fc</text>
<text transform="translate(466.8,148.2) scale(1,1.1)" font-size="6.95" text-anchor="start" font-weight="normal" fill="#231f20" stroke="#231f20" stroke-width="0.12">TIGIT-Fc</text>
<text transform="translate(0.5,245.3) scale(1,1.04)" font-size="13.8" text-anchor="start" font-weight="bold" fill="#000" stroke="#000" stroke-width="0.45" stroke-linejoin="miter">I</text>
<text transform="translate(66.7,246.3) scale(1,1.2)" font-size="6.7" text-anchor="middle" font-weight="normal" fill="#231f20" stroke="#231f20" stroke-width="0.12">IL-10 Secretion</text>
<line x1="26" y1="254.6" x2="26" y2="334.9" stroke="#5a5a5a" stroke-width="0.75" />
<line x1="23.8" y1="254.6" x2="26" y2="254.6" stroke="#5a5a5a" stroke-width="0.75" />
<text transform="translate(22.5,256.6) scale(1,1.2)" font-size="5.3" text-anchor="end" font-weight="normal" fill="#231f20" stroke="#231f20" stroke-width="0.12">4,000</text>
<line x1="23.8" y1="274.675" x2="26" y2="274.675" stroke="#5a5a5a" stroke-width="0.75" />
<text transform="translate(22.5,276.675) scale(1,1.2)" font-size="5.3" text-anchor="end" font-weight="normal" fill="#231f20" stroke="#231f20" stroke-width="0.12">3,000</text>
<line x1="23.8" y1="294.75" x2="26" y2="294.75" stroke="#5a5a5a" stroke-width="0.75" />
<text transform="translate(22.5,296.75) scale(1,1.2)" font-size="5.3" text-anchor="end" font-weight="normal" fill="#231f20" stroke="#231f20" stroke-width="0.12">2,000</text>
<line x1="23.8" y1="314.825" x2="26" y2="314.825" stroke="#5a5a5a" stroke-width="0.75" />
<text transform="translate(22.5,316.825) scale(1,1.2)" font-size="5.3" text-anchor="end" font-weight="normal" fill="#231f20" stroke="#231f20" stroke-width="0.12">1,000</text>
<line x1="23.8" y1="334.9" x2="26" y2="334.9" stroke="#5a5a5a" stroke-width="0.75" />
<text transform="translate(22.5,336.9) scale(1,1.2)" font-size="5.3" text-anchor="end" font-weight="normal" fill="#231f20" stroke="#231f20" stroke-width="0.12">0</text>
<line x1="26" y1="334.9" x2="120" y2="334.9" stroke="#5a5a5a" stroke-width="0.75" />
<line x1="44.8" y1="334.9" x2="44.8" y2="337.2" stroke="#5a5a5a" stroke-width="0.75" />
<text transform="translate(44.8,342.3) scale(1,1.2)" font-size="5.6" text-anchor="middle" font-weight="normal" fill="#231f20" stroke="#231f20" stroke-width="0.12">CD3/CD28</text>
<line x1="87.5" y1="334.9" x2="87.5" y2="337.2" stroke="#5a5a5a" stroke-width="0.75" />
<text transform="translate(87.5,342.3) scale(1,1.2)" font-size="5.6" text-anchor="middle" font-weight="normal" fill="#231f20" stroke="#231f20" stroke-width="0.12">CD3/CD155-Fc</text>
<text transform="translate(44.8,257.2) scale(1,1.1)" font-size="6.2" text-anchor="middle" font-weight="normal" fill="#231f20" stroke="#231f20" stroke-width="0.12">0.0705</text>
<line x1="36.8" y1="260.3" x2="52.8" y2="260.3" stroke="#8a8a8a" stroke-width="0.9" />
<text transform="translate(87.5,257.2) scale(1,1.1)" font-size="6.2" text-anchor="middle" font-weight="normal" fill="#231f20" stroke="#231f20" stroke-width="0.12">0.8854</text>
<line x1="79.5" y1="260.3" x2="95.5" y2="260.3" stroke="#8a8a8a" stroke-width="0.9" />
<text transform="translate(5.0,294.5) rotate(-90) scale(1,1.0)" font-size="5.8" text-anchor="middle" fill="#231f20" stroke="#231f20" stroke-width="0.12">IL-10 (pg/mL)</text>
<line x1="36.8" y1="293.10384999999997" x2="52.8" y2="290.4941" stroke="#3a3a3a" stroke-width="0.45" />
<line x1="36.8" y1="302.6997" x2="52.8" y2="277.304825" stroke="#3a3a3a" stroke-width="0.45" />
<line x1="36.8" y1="306.493875" x2="52.8" y2="314.30305" stroke="#3a3a3a" stroke-width="0.45" />
<line x1="36.8" y1="314.00192499999997" x2="52.8" y2="295.19165" stroke="#3a3a3a" stroke-width="0.45" />
<line x1="36.8" y1="314.825" x2="52.8" y2="299.60814999999997" stroke="#3a3a3a" stroke-width="0.45" />
<line x1="36.8" y1="321.00809999999996" x2="52.8" y2="298.704775" stroke="#3a3a3a" stroke-width="0.45" />
<line x1="36.8" y1="326.006775" x2="52.8" y2="312.596675" stroke="#3a3a3a" stroke-width="0.45" />
<line x1="36.8" y1="326.50865" x2="52.8" y2="325.70565" stroke="#3a3a3a" stroke-width="0.45" />
<circle cx="36.80" cy="293.10" r="1.25" fill="#173f8f"/>
<circle cx="52.80" cy="290.49" r="1.25" fill="#f67d16"/>
<circle cx="36.80" cy="302.70" r="1.25" fill="#173f8f"/>
<circle cx="52.80" cy="277.30" r="1.25" fill="#f67d16"/>
<circle cx="36.80" cy="306.49" r="1.25" fill="#173f8f"/>
<circle cx="52.80" cy="314.30" r="1.25" fill="#f67d16"/>
<circle cx="36.80" cy="314.00" r="1.25" fill="#173f8f"/>
<circle cx="52.80" cy="295.19" r="1.25" fill="#f67d16"/>
<circle cx="36.80" cy="314.82" r="1.25" fill="#173f8f"/>
<circle cx="52.80" cy="299.61" r="1.25" fill="#f67d16"/>
<circle cx="36.80" cy="321.01" r="1.25" fill="#173f8f"/>
<circle cx="52.80" cy="298.70" r="1.25" fill="#f67d16"/>
<circle cx="36.80" cy="326.01" r="1.25" fill="#173f8f"/>
<circle cx="52.80" cy="312.60" r="1.25" fill="#f67d16"/>
<circle cx="36.80" cy="326.51" r="1.25" fill="#173f8f"/>
<circle cx="52.80" cy="325.71" r="1.25" fill="#f67d16"/>
<line x1="79.6" y1="268.391525" x2="95.4" y2="296.1954" stroke="#3a3a3a" stroke-width="0.45" />
<line x1="79.6" y1="286.699925" x2="95.4" y2="293.605725" stroke="#3a3a3a" stroke-width="0.45" />
<line x1="79.6" y1="288.0048" x2="95.4" y2="312.29555" stroke="#3a3a3a" stroke-width="0.45" />
<line x1="79.6" y1="298.50402499999996" x2="95.4" y2="310.81" stroke="#3a3a3a" stroke-width="0.45" />
<line x1="79.6" y1="319.80359999999996" x2="95.4" y2="279.191875" stroke="#3a3a3a" stroke-width="0.45" />
<line x1="79.6" y1="324.200025" x2="95.4" y2="279.8945" stroke="#3a3a3a" stroke-width="0.45" />
<line x1="79.6" y1="325.20377499999995" x2="95.4" y2="315.90905" stroke="#3a3a3a" stroke-width="0.45" />
<line x1="79.6" y1="329.098325" x2="95.4" y2="312.29555" stroke="#3a3a3a" stroke-width="0.45" />
<circle cx="79.60" cy="268.39" r="1.25" fill="#173f8f"/>
<circle cx="95.40" cy="296.20" r="1.25" fill="#f67d16"/>
<circle cx="79.60" cy="286.70" r="1.25" fill="#173f8f"/>
<circle cx="95.40" cy="293.61" r="1.25" fill="#f67d16"/>
<circle cx="79.60" cy="288.00" r="1.25" fill="#173f8f"/>
<circle cx="95.40" cy="312.30" r="1.25" fill="#f67d16"/>
<circle cx="79.60" cy="298.50" r="1.25" fill="#173f8f"/>
<circle cx="95.40" cy="310.81" r="1.25" fill="#f67d16"/>
<circle cx="79.60" cy="319.80" r="1.25" fill="#173f8f"/>
<circle cx="95.40" cy="279.19" r="1.25" fill="#f67d16"/>
<circle cx="79.60" cy="324.20" r="1.25" fill="#173f8f"/>
<circle cx="95.40" cy="279.89" r="1.25" fill="#f67d16"/>
<circle cx="79.60" cy="325.20" r="1.25" fill="#173f8f"/>
<circle cx="95.40" cy="315.91" r="1.25" fill="#f67d16"/>
<circle cx="79.60" cy="329.10" r="1.25" fill="#173f8f"/>
<circle cx="95.40" cy="312.30" r="1.25" fill="#f67d16"/>
<text transform="translate(125.6,245.8) scale(1,1.04)" font-size="13.8" text-anchor="start" font-weight="bold" fill="#000" stroke="#000" stroke-width="0.45" stroke-linejoin="miter">J</text>
<text transform="translate(195,246.3) scale(1,1.2)" font-size="6.8" text-anchor="middle" font-weight="normal" fill="#231f20" stroke="#231f20" stroke-width="0.12">IFN-γ Secretion</text>
<line x1="154.5" y1="254.0" x2="154.5" y2="334.4" stroke="#5a5a5a" stroke-width="0.75" />
<line x1="152.3" y1="254.0" x2="154.5" y2="254.0" stroke="#5a5a5a" stroke-width="0.75" />
<text transform="translate(151.0,256.0) scale(1,1.2)" font-size="5.5" text-anchor="end" font-weight="normal" fill="#231f20" stroke="#231f20" stroke-width="0.12">600,000</text>
<line x1="152.3" y1="280.8" x2="154.5" y2="280.8" stroke="#5a5a5a" stroke-width="0.75" />
<text transform="translate(151.0,282.8) scale(1,1.2)" font-size="5.5" text-anchor="end" font-weight="normal" fill="#231f20" stroke="#231f20" stroke-width="0.12">400,000</text>
<line x1="152.3" y1="307.59999999999997" x2="154.5" y2="307.59999999999997" stroke="#5a5a5a" stroke-width="0.75" />
<text transform="translate(151.0,309.59999999999997) scale(1,1.2)" font-size="5.5" text-anchor="end" font-weight="normal" fill="#231f20" stroke="#231f20" stroke-width="0.12">200,000</text>
<line x1="152.3" y1="334.4" x2="154.5" y2="334.4" stroke="#5a5a5a" stroke-width="0.75" />
<text transform="translate(151.0,336.4) scale(1,1.2)" font-size="5.5" text-anchor="end" font-weight="normal" fill="#231f20" stroke="#231f20" stroke-width="0.12">0</text>
<line x1="154.5" y1="334.4" x2="233" y2="334.4" stroke="#5a5a5a" stroke-width="0.75" stroke-dasharray="0.9,0.5"/>
<line x1="172.8" y1="334.4" x2="172.8" y2="336.7" stroke="#5a5a5a" stroke-width="0.75" />
<text transform="translate(172.8,342.3) scale(1,1.2)" font-size="5.6" text-anchor="middle" font-weight="normal" fill="#231f20" stroke="#231f20" stroke-width="0.12">CD3/CD28</text>
<line x1="215.25" y1="334.4" x2="215.25" y2="336.7" stroke="#5a5a5a" stroke-width="0.75" />
<text transform="translate(215.25,342.3) scale(1,1.2)" font-size="5.6" text-anchor="middle" font-weight="normal" fill="#231f20" stroke="#231f20" stroke-width="0.12">CD3/CD155-Fc</text>
<text transform="translate(172.8,262) scale(1,1.1)" font-size="6.2" text-anchor="middle" font-weight="normal" fill="#231f20" stroke="#231f20" stroke-width="0.12">0.2614</text>
<line x1="164.8" y1="265.1" x2="180.8" y2="265.1" stroke="#8a8a8a" stroke-width="0.9" />
<text transform="translate(215.25,262) scale(1,1.1)" font-size="6.2" text-anchor="middle" font-weight="normal" fill="#231f20" stroke="#231f20" stroke-width="0.12">0.0401</text>
<line x1="207.25" y1="265.1" x2="223.25" y2="265.1" stroke="#8a8a8a" stroke-width="0.9" />
<text transform="translate(128.8,293.3) rotate(-90) scale(1,1.0)" font-size="6.07" text-anchor="middle" fill="#231f20" stroke="#231f20" stroke-width="0.12">IFN-γ (pg/mL)</text>
<line x1="164.8" y1="272.492" x2="180.8" y2="272.894" stroke="#3a3a3a" stroke-width="0.45" />
<line x1="164.8" y1="290.448" x2="180.8" y2="317.51599999999996" stroke="#3a3a3a" stroke-width="0.45" />
<line x1="164.8" y1="305.59" x2="180.8" y2="315.64" stroke="#3a3a3a" stroke-width="0.45" />
<line x1="164.8" y1="317.51599999999996" x2="180.8" y2="319.65999999999997" stroke="#3a3a3a" stroke-width="0.45" />
<line x1="164.8" y1="321.13399999999996" x2="180.8" y2="315.64" stroke="#3a3a3a" stroke-width="0.45" />
<line x1="164.8" y1="322.474" x2="180.8" y2="321.536" stroke="#3a3a3a" stroke-width="0.45" />
<line x1="164.8" y1="324.34999999999997" x2="180.8" y2="323.546" stroke="#3a3a3a" stroke-width="0.45" />
<circle cx="164.80" cy="272.49" r="1.25" fill="#173f8f"/>
<circle cx="180.80" cy="272.89" r="1.25" fill="#f67d16"/>
<circle cx="164.80" cy="290.45" r="1.25" fill="#173f8f"/>
<circle cx="180.80" cy="317.52" r="1.25" fill="#f67d16"/>
<circle cx="164.80" cy="305.59" r="1.25" fill="#173f8f"/>
<circle cx="180.80" cy="315.64" r="1.25" fill="#f67d16"/>
<circle cx="164.80" cy="317.52" r="1.25" fill="#173f8f"/>
<circle cx="180.80" cy="319.66" r="1.25" fill="#f67d16"/>
<circle cx="164.80" cy="321.13" r="1.25" fill="#173f8f"/>
<circle cx="180.80" cy="315.64" r="1.25" fill="#f67d16"/>
<circle cx="164.80" cy="322.47" r="1.25" fill="#173f8f"/>
<circle cx="180.80" cy="321.54" r="1.25" fill="#f67d16"/>
<circle cx="164.80" cy="324.35" r="1.25" fill="#173f8f"/>
<circle cx="180.80" cy="323.55" r="1.25" fill="#f67d16"/>
<line x1="207.2" y1="279.996" x2="223.3" y2="294.334" stroke="#3a3a3a" stroke-width="0.45" />
<line x1="207.2" y1="297.818" x2="223.3" y2="316.97999999999996" stroke="#3a3a3a" stroke-width="0.45" />
<line x1="207.2" y1="309.342" x2="223.3" y2="323.68" stroke="#3a3a3a" stroke-width="0.45" />
<line x1="207.2" y1="323.01" x2="223.3" y2="318.454" stroke="#3a3a3a" stroke-width="0.45" />
<line x1="207.2" y1="325.154" x2="223.3" y2="329.03999999999996" stroke="#3a3a3a" stroke-width="0.45" />
<line x1="207.2" y1="326.49399999999997" x2="223.3" y2="324.484" stroke="#3a3a3a" stroke-width="0.45" />
<circle cx="207.20" cy="280.00" r="1.25" fill="#173f8f"/>
<circle cx="223.30" cy="294.33" r="1.25" fill="#f67d16"/>
<circle cx="207.20" cy="297.82" r="1.25" fill="#173f8f"/>
<circle cx="223.30" cy="316.98" r="1.25" fill="#f67d16"/>
<circle cx="207.20" cy="309.34" r="1.25" fill="#173f8f"/>
<circle cx="223.30" cy="323.68" r="1.25" fill="#f67d16"/>
<circle cx="207.20" cy="323.01" r="1.25" fill="#173f8f"/>
<circle cx="223.30" cy="318.45" r="1.25" fill="#f67d16"/>
<circle cx="207.20" cy="325.15" r="1.25" fill="#173f8f"/>
<circle cx="223.30" cy="329.04" r="1.25" fill="#f67d16"/>
<circle cx="207.20" cy="326.49" r="1.25" fill="#173f8f"/>
<circle cx="223.30" cy="324.48" r="1.25" fill="#f67d16"/>
<line x1="238.1" y1="256" x2="246.2" y2="256" stroke="#666" stroke-width="0.5" />
<circle cx="242.10" cy="256.00" r="1.15" fill="#173f8f"/>
<line x1="238.1" y1="265.8" x2="246.2" y2="265.8" stroke="#666" stroke-width="0.5" />
<circle cx="242.10" cy="265.80" r="1.15" fill="#f67d16"/>
<text transform="translate(250.2,257.8) scale(1,1.02)" font-size="5.84" text-anchor="start" font-weight="normal" fill="#231f20" stroke="#231f20" stroke-width="0.12">Human-Fc</text>
<text transform="translate(250.2,267.7) scale(1,1.02)" font-size="5.84" text-anchor="start" font-weight="normal" fill="#231f20" stroke="#231f20" stroke-width="0.12">TIGIT-Fc</text>
</svg>
</body></html>
